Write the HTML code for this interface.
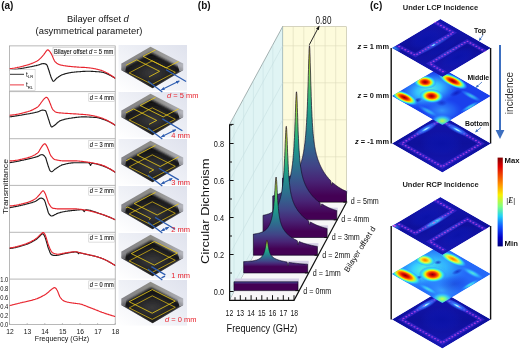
<!DOCTYPE html>
<html><head><meta charset="utf-8"><title>Figure</title>
<style>
html,body{margin:0;padding:0;background:#fff;}
body{width:520px;height:350px;overflow:hidden;}
svg{display:block;font-family:"Liberation Sans",sans-serif;}
</style></head><body>
<svg width="520" height="350" viewBox="0 0 520 350">
<rect width="520" height="350" fill="#fff"/>
<g id="pa">
<rect x="9.6" y="45.9" width="105.60000000000001" height="278.6" fill="#fff" stroke="#9a9a9a" stroke-width="0.7"/>
<line x1="9.6" y1="91.6" x2="115.2" y2="91.6" stroke="#9a9a9a" stroke-width="0.7"/>
<line x1="9.6" y1="138.7" x2="115.2" y2="138.7" stroke="#9a9a9a" stroke-width="0.7"/>
<line x1="9.6" y1="185.4" x2="115.2" y2="185.4" stroke="#9a9a9a" stroke-width="0.7"/>
<line x1="9.6" y1="232.3" x2="115.2" y2="232.3" stroke="#9a9a9a" stroke-width="0.7"/>
<line x1="9.6" y1="279.1" x2="115.2" y2="279.1" stroke="#9a9a9a" stroke-width="0.7"/>
<clipPath id="cpa"><rect x="9.6" y="44.9" width="105.60000000000001" height="280.6"/></clipPath>
<g clip-path="url(#cpa)" fill="none" stroke-linejoin="round" stroke-linecap="round">
<path d="M9.6,69.7 L10.1,69.6 L10.7,69.6 L11.2,69.5 L11.7,69.4 L12.3,69.3 L12.8,69.2 L13.3,69.2 L13.8,69.1 L14.4,69.0 L14.9,68.9 L15.4,68.8 L16.0,68.8 L16.5,68.7 L17.0,68.6 L17.6,68.5 L18.1,68.4 L18.6,68.3 L19.2,68.2 L19.7,68.2 L20.2,68.1 L20.7,68.0 L21.3,67.9 L21.8,67.8 L22.3,67.7 L22.9,67.6 L23.4,67.5 L23.9,67.4 L24.5,67.3 L25.0,67.2 L25.1,67.2 L25.5,67.1 L26.1,67.0 L26.6,66.9 L27.1,66.8 L27.6,66.7 L28.2,66.6 L28.7,66.5 L29.2,66.4 L29.8,66.3 L30.3,66.2 L30.8,66.1 L31.4,66.0 L31.9,65.9 L32.4,65.8 L32.9,65.7 L33.5,65.6 L34.0,65.4 L34.5,65.3 L35.1,65.2 L35.6,65.1 L36.1,65.0 L36.7,64.8 L37.2,64.7 L37.7,64.6 L37.7,64.6 L38.3,64.4 L38.8,64.3 L39.3,64.1 L39.8,63.9 L40.4,63.7 L40.9,63.5 L41.4,63.3 L42.0,63.2 L42.5,63.1 L43.0,63.0 L43.5,63.0 L43.6,63.0 L44.1,63.0 L44.6,63.1 L45.2,63.3 L45.7,63.5 L46.2,63.7 L46.5,63.9 L46.7,64.1 L47.3,65.1 L47.8,66.5 L48.3,68.2 L48.9,69.8 L49.0,70.2 L49.4,71.4 L49.9,73.1 L50.5,74.8 L51.0,76.4 L51.5,77.7 L51.5,77.7 L52.1,78.9 L52.6,80.0 L53.1,80.6 L53.3,80.7 L53.6,80.6 L54.2,80.3 L54.7,79.8 L55.2,79.2 L55.8,78.5 L56.3,78.0 L56.6,77.7 L56.8,77.5 L57.4,77.1 L57.9,76.8 L58.4,76.4 L59.0,76.0 L59.5,75.6 L60.0,75.3 L60.5,75.0 L61.1,74.7 L61.6,74.4 L62.1,74.2 L62.7,74.0 L62.9,73.9 L63.2,73.8 L63.7,73.6 L64.3,73.5 L64.8,73.3 L65.3,73.2 L65.8,73.0 L66.4,72.9 L66.9,72.8 L67.4,72.7 L68.0,72.5 L68.5,72.4 L69.0,72.3 L69.6,72.2 L70.1,72.1 L70.6,72.0 L71.2,71.9 L71.7,71.8 L72.2,71.8 L72.7,71.7 L73.3,71.6 L73.8,71.6 L74.3,71.5 L74.9,71.4 L75.4,71.4 L75.4,71.4 L75.9,71.4 L76.5,71.3 L77.0,71.3 L77.5,71.2 L78.1,71.2 L78.6,71.1 L79.1,71.1 L79.6,71.1 L80.2,71.0 L80.7,71.0 L81.2,70.9 L81.8,70.9 L82.3,70.9 L82.8,70.8 L83.4,70.8 L83.9,70.8 L84.4,70.8 L85.0,70.8 L85.5,70.7 L86.0,70.7 L86.5,70.7 L87.1,70.7 L87.6,70.7 L88.0,70.7 L88.1,70.7 L88.7,70.7 L89.2,70.7 L89.7,70.7 L90.3,70.7 L90.8,70.7 L91.3,70.8 L91.9,70.8 L92.4,70.8 L92.9,70.8 L93.4,70.9 L94.0,70.9 L94.5,70.9 L95.0,70.9 L95.6,71.0 L96.1,71.0 L96.6,71.1 L97.2,71.1 L97.7,71.1 L98.2,71.2 L98.7,71.2 L99.3,71.3 L99.8,71.3 L100.3,71.4 L100.6,71.4 L100.9,71.4 L101.4,71.5 L101.9,71.6 L102.5,71.7 L103.0,71.8 L103.5,71.9 L104.1,72.1 L104.6,72.3 L105.1,72.4 L105.6,72.6 L106.2,72.8 L106.7,73.0 L107.2,73.3 L107.8,73.5 L108.3,73.8 L108.8,74.0 L109.4,74.3 L109.9,74.6 L110.4,74.9 L111.0,75.1 L111.5,75.4 L112.0,75.8 L112.5,76.1 L113.1,76.4 L113.6,76.7 L114.1,77.0 L114.7,77.4 L115.2,77.7" stroke="#1a1a1a" stroke-width="1.15" transform="translate(0,0.6)"/>
<path d="M9.6,68.2 L10.1,68.1 L10.7,68.1 L11.2,68.0 L11.7,68.0 L12.3,67.9 L12.8,67.8 L13.3,67.7 L13.8,67.7 L14.4,67.6 L14.9,67.5 L15.4,67.4 L16.0,67.3 L16.5,67.2 L17.0,67.1 L17.6,66.9 L18.1,66.8 L18.6,66.7 L19.2,66.6 L19.7,66.5 L20.2,66.4 L20.7,66.2 L21.3,66.1 L21.8,66.0 L22.3,65.8 L22.9,65.7 L23.4,65.6 L23.9,65.4 L24.5,65.3 L25.0,65.1 L25.1,65.1 L25.5,65.0 L26.1,64.8 L26.6,64.7 L27.1,64.5 L27.6,64.4 L28.2,64.2 L28.7,64.1 L29.2,63.9 L29.8,63.7 L30.3,63.5 L30.8,63.3 L31.4,63.1 L31.9,62.9 L32.4,62.7 L32.9,62.5 L33.5,62.3 L34.0,62.0 L34.5,61.8 L35.1,61.5 L35.6,61.3 L36.1,61.0 L36.7,60.7 L37.2,60.4 L37.7,60.1 L37.7,60.1 L38.3,59.7 L38.8,59.3 L39.3,58.9 L39.8,58.4 L40.4,57.9 L40.9,57.4 L41.4,56.8 L42.0,56.2 L42.5,55.6 L43.0,55.0 L43.6,54.3 L44.0,53.8 L44.1,53.7 L44.6,52.9 L45.2,52.1 L45.7,51.3 L46.2,50.6 L46.5,50.3 L46.7,50.1 L47.3,49.5 L47.8,49.3 L47.8,49.3 L48.3,49.5 L48.9,50.0 L49.2,50.3 L49.4,50.5 L49.9,51.2 L50.5,52.0 L51.0,52.9 L51.5,53.8 L51.5,53.8 L52.1,54.9 L52.6,56.0 L53.1,57.3 L53.6,58.5 L54.2,59.7 L54.7,60.6 L55.2,61.3 L55.3,61.4 L55.8,61.8 L56.3,62.3 L56.8,62.7 L57.4,63.1 L57.9,63.4 L58.4,63.7 L59.0,63.9 L59.5,64.2 L60.0,64.3 L60.3,64.4 L60.5,64.5 L61.1,64.6 L61.6,64.7 L62.1,64.8 L62.7,64.9 L63.2,65.0 L63.7,65.1 L64.3,65.2 L64.8,65.3 L65.3,65.4 L65.8,65.4 L66.4,65.5 L66.9,65.6 L67.4,65.6 L68.0,65.7 L68.5,65.8 L69.0,65.8 L69.6,65.9 L70.1,65.9 L70.6,66.0 L71.2,66.0 L71.7,66.1 L72.2,66.1 L72.7,66.2 L73.3,66.2 L73.8,66.3 L74.3,66.3 L74.9,66.4 L75.4,66.4 L75.4,66.4 L75.9,66.4 L76.5,66.5 L77.0,66.5 L77.5,66.6 L78.1,66.6 L78.6,66.6 L79.1,66.7 L79.6,66.7 L80.2,66.7 L80.7,66.7 L81.2,66.8 L81.8,66.8 L82.3,66.8 L82.8,66.8 L83.4,66.9 L83.9,66.9 L84.4,66.9 L85.0,67.0 L85.5,67.0 L86.0,67.0 L86.5,67.1 L87.1,67.1 L87.6,67.2 L88.0,67.2 L88.1,67.2 L88.7,67.3 L89.2,67.3 L89.7,67.4 L90.3,67.5 L90.8,67.5 L91.3,67.6 L91.9,67.7 L92.4,67.8 L92.9,67.9 L93.4,68.0 L94.0,68.1 L94.5,68.2 L95.0,68.3 L95.6,68.4 L96.1,68.5 L96.6,68.7 L97.2,68.8 L97.7,68.9 L98.2,69.0 L98.7,69.2 L99.3,69.3 L99.8,69.5 L100.3,69.6 L100.6,69.7 L100.9,69.8 L101.4,69.9 L101.9,70.1 L102.5,70.3 L103.0,70.5 L103.5,70.7 L104.1,71.0 L104.6,71.2 L105.1,71.4 L105.6,71.7 L106.2,72.0 L106.7,72.2 L107.2,72.5 L107.8,72.8 L108.3,73.1 L108.8,73.4 L109.4,73.7 L109.9,74.1 L110.4,74.4 L111.0,74.7 L111.5,75.1 L112.0,75.4 L112.5,75.8 L113.1,76.2 L113.6,76.6 L114.1,76.9 L114.7,77.3 L115.2,77.7" stroke="#e8232d" stroke-width="1.15" transform="translate(0,0.5)"/>
<path d="M9.6,116.9 L10.1,116.8 L10.7,116.7 L11.2,116.7 L11.7,116.6 L12.3,116.5 L12.8,116.4 L13.3,116.4 L13.8,116.3 L14.4,116.2 L14.9,116.1 L15.4,116.0 L16.0,115.9 L16.5,115.9 L17.0,115.8 L17.6,115.7 L18.1,115.6 L18.6,115.5 L19.2,115.4 L19.7,115.3 L20.2,115.2 L20.7,115.2 L21.3,115.1 L21.8,115.0 L22.3,114.9 L22.9,114.8 L23.4,114.7 L23.9,114.6 L24.5,114.5 L25.0,114.4 L25.1,114.4 L25.5,114.3 L26.1,114.2 L26.6,114.1 L27.1,114.0 L27.6,114.0 L28.2,113.9 L28.7,113.8 L29.2,113.7 L29.8,113.6 L30.3,113.5 L30.8,113.4 L31.4,113.3 L31.9,113.2 L32.4,113.1 L32.9,113.0 L33.5,112.9 L34.0,112.8 L34.5,112.7 L35.1,112.5 L35.6,112.4 L36.1,112.3 L36.7,112.2 L37.2,112.0 L37.7,111.9 L37.7,111.9 L38.3,111.7 L38.8,111.5 L39.3,111.3 L39.8,111.0 L40.4,110.7 L40.9,110.5 L41.4,110.3 L42.0,110.2 L42.5,110.1 L42.7,110.1 L43.0,110.1 L43.6,110.2 L44.1,110.3 L44.6,110.4 L45.2,110.5 L45.3,110.6 L45.7,111.0 L46.2,112.1 L46.7,113.6 L47.3,115.3 L47.8,116.9 L47.8,116.9 L48.3,118.5 L48.9,120.2 L49.4,121.9 L49.9,123.5 L50.3,124.5 L50.5,124.9 L51.0,126.3 L51.5,127.0 L51.5,127.0 L52.1,126.9 L52.6,126.6 L53.1,126.3 L53.6,125.9 L54.0,125.7 L54.2,125.6 L54.7,125.2 L55.2,124.8 L55.8,124.3 L56.3,123.8 L56.8,123.3 L57.4,122.8 L57.9,122.3 L58.4,121.9 L59.0,121.5 L59.5,121.1 L60.0,120.8 L60.3,120.7 L60.5,120.6 L61.1,120.4 L61.6,120.2 L62.1,120.0 L62.7,119.9 L63.2,119.7 L63.7,119.6 L64.3,119.4 L64.8,119.3 L65.3,119.1 L65.8,119.0 L66.4,118.9 L66.9,118.8 L67.4,118.7 L68.0,118.6 L68.5,118.5 L69.0,118.4 L69.6,118.3 L70.1,118.2 L70.4,118.2 L70.6,118.2 L71.2,118.1 L71.7,118.0 L72.2,117.9 L72.7,117.9 L73.3,117.8 L73.8,117.7 L74.3,117.6 L74.9,117.6 L75.4,117.5 L75.9,117.4 L76.5,117.3 L77.0,117.3 L77.5,117.2 L78.1,117.2 L78.6,117.1 L79.1,117.1 L79.6,117.0 L80.2,117.0 L80.7,117.0 L81.2,116.9 L81.8,116.9 L82.3,116.9 L82.8,116.9 L83.0,116.9 L83.4,116.9 L83.9,116.9 L84.4,116.9 L85.0,116.9 L85.5,116.9 L86.0,116.9 L86.5,116.9 L87.1,117.0 L87.6,117.0 L88.1,117.0 L88.7,117.0 L89.2,117.0 L89.7,117.1 L90.3,117.1 L90.8,117.1 L91.3,117.1 L91.9,117.2 L92.4,117.2 L92.9,117.2 L93.4,117.3 L94.0,117.3 L94.5,117.3 L95.0,117.4 L95.5,117.4 L95.6,117.4 L96.1,117.5 L96.6,117.5 L97.2,117.6 L97.7,117.7 L98.2,117.8 L98.7,117.9 L99.3,118.1 L99.8,118.2 L100.3,118.4 L100.9,118.5 L101.4,118.7 L101.9,118.9 L102.5,119.1 L103.0,119.3 L103.5,119.4 L104.1,119.6 L104.6,119.8 L105.1,120.0 L105.6,120.2 L105.6,120.2 L106.2,120.4 L106.7,120.6 L107.2,120.8 L107.8,121.1 L108.3,121.3 L108.8,121.6 L109.4,121.8 L109.9,122.1 L110.4,122.4 L111.0,122.7 L111.5,123.0 L112.0,123.3 L112.5,123.6 L113.1,123.9 L113.6,124.2 L114.1,124.5 L114.7,124.9 L115.2,125.2" stroke="#1a1a1a" stroke-width="1.15" transform="translate(0,0)"/>
<path d="M9.6,115.2 L10.1,115.2 L10.7,115.1 L11.2,115.1 L11.7,115.1 L12.3,115.0 L12.8,114.9 L13.3,114.9 L13.8,114.8 L14.4,114.7 L14.9,114.7 L15.4,114.6 L16.0,114.5 L16.5,114.4 L17.0,114.3 L17.6,114.2 L18.1,114.1 L18.6,114.0 L19.2,113.9 L19.7,113.7 L20.2,113.6 L20.7,113.5 L21.3,113.4 L21.8,113.2 L22.3,113.1 L22.9,113.0 L23.4,112.8 L23.9,112.7 L24.5,112.6 L25.0,112.4 L25.1,112.4 L25.5,112.3 L26.1,112.1 L26.6,112.0 L27.1,111.8 L27.6,111.7 L28.2,111.5 L28.7,111.3 L29.2,111.2 L29.8,111.0 L30.3,110.8 L30.8,110.6 L31.4,110.4 L31.9,110.1 L32.4,109.9 L32.9,109.7 L33.5,109.4 L34.0,109.1 L34.5,108.8 L35.1,108.6 L35.6,108.2 L36.1,107.9 L36.7,107.6 L37.2,107.2 L37.7,106.9 L37.7,106.9 L38.3,106.4 L38.8,105.9 L39.3,105.2 L39.8,104.5 L40.4,103.8 L40.9,103.0 L41.4,102.2 L42.0,101.5 L42.5,100.8 L42.7,100.6 L43.0,100.2 L43.6,99.5 L44.1,98.9 L44.6,98.3 L45.2,97.9 L45.3,97.8 L45.7,97.6 L46.2,97.3 L46.5,97.3 L46.7,97.4 L47.3,97.7 L47.8,98.3 L47.8,98.3 L48.3,99.2 L48.9,100.3 L49.4,101.6 L49.5,101.8 L49.9,102.8 L50.5,104.2 L51.0,105.6 L51.5,106.9 L52.1,108.2 L52.6,109.1 L52.8,109.4 L53.1,109.8 L53.6,110.4 L54.2,110.9 L54.7,111.4 L55.2,111.8 L55.8,112.1 L56.3,112.3 L56.6,112.4 L56.8,112.4 L57.4,112.5 L57.9,112.6 L58.4,112.7 L59.0,112.8 L59.5,112.8 L60.0,112.9 L60.5,112.9 L61.1,113.0 L61.6,113.0 L62.1,113.0 L62.7,113.1 L62.9,113.1 L63.2,113.1 L63.7,113.2 L64.3,113.2 L64.8,113.2 L65.3,113.3 L65.8,113.3 L66.4,113.4 L66.9,113.4 L67.4,113.4 L68.0,113.5 L68.5,113.5 L69.0,113.5 L69.6,113.5 L70.1,113.6 L70.6,113.6 L71.2,113.6 L71.7,113.7 L72.2,113.7 L72.7,113.7 L73.3,113.8 L73.8,113.8 L74.3,113.8 L74.9,113.9 L75.4,113.9 L75.4,113.9 L75.9,113.9 L76.5,114.0 L77.0,114.0 L77.5,114.0 L78.1,114.1 L78.6,114.1 L79.1,114.2 L79.6,114.2 L80.2,114.2 L80.7,114.3 L81.2,114.3 L81.8,114.3 L82.3,114.4 L82.8,114.4 L83.4,114.5 L83.9,114.5 L84.4,114.5 L85.0,114.6 L85.5,114.6 L86.0,114.7 L86.5,114.7 L87.1,114.8 L87.6,114.9 L88.0,114.9 L88.1,114.9 L88.7,115.0 L89.2,115.1 L89.7,115.1 L90.3,115.2 L90.8,115.3 L91.3,115.4 L91.9,115.5 L92.4,115.6 L92.9,115.7 L93.4,115.8 L94.0,115.9 L94.5,116.0 L95.0,116.2 L95.6,116.3 L96.1,116.4 L96.6,116.6 L97.2,116.7 L97.7,116.9 L98.2,117.0 L98.7,117.1 L99.3,117.3 L99.8,117.5 L100.3,117.6 L100.6,117.7 L100.9,117.8 L101.4,118.0 L101.9,118.1 L102.5,118.3 L103.0,118.5 L103.5,118.7 L104.1,119.0 L104.6,119.2 L105.1,119.4 L105.6,119.7 L106.2,119.9 L106.7,120.2 L107.2,120.4 L107.8,120.7 L108.3,121.0 L108.8,121.3 L109.4,121.6 L109.9,121.9 L110.4,122.2 L111.0,122.5 L111.5,122.8 L112.0,123.1 L112.5,123.5 L113.1,123.8 L113.6,124.2 L114.1,124.5 L114.7,124.8 L115.2,125.2" stroke="#e8232d" stroke-width="1.15" transform="translate(0,0)"/>
<path d="M9.6,162.7 L10.1,162.6 L10.7,162.5 L11.2,162.4 L11.7,162.4 L12.3,162.3 L12.8,162.2 L13.3,162.1 L13.8,162.0 L14.4,161.9 L14.9,161.8 L15.4,161.7 L16.0,161.6 L16.5,161.5 L17.0,161.4 L17.6,161.3 L18.1,161.2 L18.6,161.1 L19.2,161.0 L19.7,160.9 L20.2,160.8 L20.7,160.6 L21.3,160.5 L21.8,160.4 L22.3,160.3 L22.9,160.2 L23.4,160.1 L23.9,160.0 L24.5,159.8 L25.0,159.7 L25.1,159.7 L25.5,159.6 L26.1,159.5 L26.6,159.4 L27.1,159.2 L27.6,159.1 L28.2,159.0 L28.7,158.9 L29.2,158.8 L29.8,158.6 L30.3,158.5 L30.8,158.4 L31.4,158.2 L31.9,158.1 L32.4,158.0 L32.9,157.8 L33.5,157.7 L34.0,157.5 L34.5,157.4 L35.1,157.2 L35.6,157.1 L36.1,156.9 L36.7,156.7 L37.2,156.6 L37.7,156.4 L37.7,156.4 L38.3,156.2 L38.8,155.9 L39.3,155.6 L39.8,155.3 L40.4,155.0 L40.9,154.8 L41.4,154.7 L42.0,154.6 L42.0,154.6 L42.5,154.7 L43.0,154.9 L43.6,155.3 L44.1,155.7 L44.6,156.3 L45.2,156.9 L45.3,157.1 L45.7,157.8 L46.2,159.3 L46.7,161.1 L47.3,163.0 L47.8,164.7 L47.8,164.7 L48.3,166.3 L48.9,167.9 L49.4,169.4 L49.9,170.5 L50.3,171.0 L50.5,171.1 L51.0,171.5 L51.5,171.7 L51.5,171.7 L52.1,171.6 L52.6,171.3 L53.1,170.9 L53.6,170.4 L54.2,169.9 L54.7,169.4 L55.2,169.0 L55.3,169.0 L55.8,168.7 L56.3,168.3 L56.8,168.0 L57.4,167.6 L57.9,167.3 L58.4,166.9 L59.0,166.6 L59.5,166.3 L60.0,165.9 L60.5,165.7 L61.1,165.4 L61.6,165.1 L62.1,164.9 L62.7,164.8 L62.9,164.7 L63.2,164.6 L63.7,164.5 L64.3,164.4 L64.8,164.2 L65.3,164.1 L65.8,164.0 L66.4,163.8 L66.9,163.7 L67.4,163.6 L68.0,163.5 L68.5,163.4 L69.0,163.3 L69.6,163.2 L70.1,163.1 L70.6,163.1 L71.2,163.0 L71.7,162.9 L72.2,162.9 L72.7,162.8 L73.3,162.8 L73.8,162.7 L74.3,162.7 L74.9,162.7 L75.4,162.7 L75.4,162.7 L75.9,162.7 L76.5,162.7 L77.0,162.7 L77.5,162.7 L78.1,162.7 L78.6,162.7 L79.1,162.7 L79.6,162.7 L80.2,162.7 L80.7,162.7 L81.2,162.7 L81.8,162.7 L82.3,162.7 L82.8,162.7 L83.4,162.7 L83.9,162.7 L84.4,162.7 L85.0,162.7 L85.5,162.7 L86.0,162.7 L86.5,162.7 L87.1,162.7 L87.6,162.7 L88.0,162.7 L88.1,162.7 L88.7,162.9 L89.2,163.2 L89.5,163.4 L89.7,163.8 L90.3,165.1 L90.5,165.4 L90.8,165.1 L91.3,163.9 L91.6,163.6 L91.9,163.5 L92.4,163.4 L92.5,163.4 L92.9,163.4 L93.4,163.4 L94.0,163.5 L94.5,163.6 L95.0,163.7 L95.6,163.8 L96.1,163.9 L96.6,164.0 L97.2,164.2 L97.7,164.3 L98.2,164.5 L98.7,164.6 L99.3,164.8 L99.8,165.0 L100.3,165.1 L100.6,165.2 L100.9,165.3 L101.4,165.4 L101.9,165.6 L102.5,165.8 L103.0,166.0 L103.5,166.2 L104.1,166.4 L104.6,166.6 L105.1,166.8 L105.6,167.0 L106.2,167.3 L106.7,167.5 L107.2,167.7 L107.8,168.0 L108.3,168.3 L108.8,168.5 L109.4,168.8 L109.9,169.1 L110.4,169.4 L111.0,169.6 L111.5,169.9 L112.0,170.3 L112.5,170.6 L113.1,170.9 L113.6,171.2 L114.1,171.5 L114.7,171.9 L115.2,172.2" stroke="#1a1a1a" stroke-width="1.15" transform="translate(0,0)"/>
<path d="M9.6,160.9 L10.1,160.9 L10.7,160.9 L11.2,160.8 L11.7,160.8 L12.3,160.8 L12.8,160.7 L13.3,160.7 L13.8,160.6 L14.4,160.6 L14.9,160.5 L15.4,160.4 L16.0,160.3 L16.5,160.2 L17.0,160.2 L17.6,160.1 L18.1,160.0 L18.6,159.9 L19.2,159.7 L19.7,159.6 L20.2,159.5 L20.7,159.4 L21.3,159.3 L21.8,159.2 L22.3,159.1 L22.9,158.9 L23.4,158.8 L23.9,158.7 L24.5,158.6 L25.0,158.4 L25.1,158.4 L25.5,158.3 L26.1,158.2 L26.6,158.0 L27.1,157.9 L27.6,157.7 L28.2,157.6 L28.7,157.4 L29.2,157.3 L29.8,157.1 L30.3,156.9 L30.8,156.7 L31.4,156.5 L31.9,156.3 L32.4,156.0 L32.9,155.8 L33.5,155.5 L34.0,155.2 L34.5,155.0 L35.1,154.7 L35.6,154.3 L36.1,154.0 L36.7,153.6 L37.2,153.3 L37.7,152.9 L37.7,152.9 L38.3,152.4 L38.8,151.6 L39.3,150.8 L39.8,149.8 L40.4,148.9 L40.9,148.0 L41.4,147.2 L41.5,147.1 L42.0,146.4 L42.5,145.7 L43.0,145.0 L43.6,144.5 L43.8,144.3 L44.1,144.1 L44.6,143.8 L44.8,143.8 L45.2,143.9 L45.7,144.4 L46.0,144.8 L46.2,145.1 L46.7,146.0 L47.3,147.1 L47.8,148.3 L47.8,148.3 L48.3,149.6 L48.9,151.0 L49.4,152.4 L49.9,153.8 L50.5,155.0 L51.0,155.9 L51.0,155.9 L51.5,156.6 L52.1,157.2 L52.6,157.8 L53.1,158.3 L53.6,158.8 L54.2,159.2 L54.7,159.5 L55.2,159.7 L55.3,159.7 L55.8,159.8 L56.3,159.9 L56.8,160.0 L57.4,160.1 L57.9,160.2 L58.4,160.3 L59.0,160.4 L59.5,160.5 L60.0,160.6 L60.5,160.6 L61.1,160.7 L61.6,160.7 L62.1,160.8 L62.7,160.8 L63.2,160.8 L63.7,160.9 L64.3,160.9 L64.8,160.9 L65.3,160.9 L65.4,160.9 L65.8,160.9 L66.4,160.9 L66.9,160.9 L67.4,160.9 L68.0,160.9 L68.5,160.9 L69.0,160.9 L69.6,160.9 L70.1,160.9 L70.6,160.9 L71.2,160.9 L71.7,160.9 L72.2,160.9 L72.7,160.9 L73.3,160.9 L73.8,160.9 L74.3,160.9 L74.9,160.9 L75.4,160.9 L75.4,160.9 L75.9,160.9 L76.5,160.9 L77.0,160.9 L77.5,161.0 L78.1,161.0 L78.6,161.0 L79.1,161.1 L79.6,161.1 L80.2,161.2 L80.7,161.2 L81.2,161.3 L81.8,161.3 L82.3,161.4 L82.8,161.5 L83.4,161.5 L83.9,161.6 L84.4,161.7 L85.0,161.8 L85.5,161.8 L86.0,161.9 L86.5,162.0 L87.1,162.1 L87.6,162.1 L88.0,162.2 L88.1,162.2 L88.7,162.3 L89.2,162.4 L89.7,162.4 L90.3,162.5 L90.8,162.6 L91.3,162.7 L91.9,162.8 L92.4,162.9 L92.9,163.0 L93.4,163.1 L94.0,163.2 L94.5,163.3 L95.0,163.4 L95.6,163.5 L96.1,163.6 L96.6,163.7 L97.2,163.8 L97.7,163.9 L98.2,164.1 L98.7,164.2 L99.3,164.3 L99.8,164.5 L100.3,164.6 L100.6,164.7 L100.9,164.8 L101.4,164.9 L101.9,165.1 L102.5,165.3 L103.0,165.5 L103.5,165.7 L104.1,165.9 L104.6,166.1 L105.1,166.4 L105.6,166.6 L106.2,166.9 L106.7,167.1 L107.2,167.4 L107.8,167.7 L108.3,167.9 L108.8,168.2 L109.4,168.5 L109.9,168.8 L110.4,169.1 L111.0,169.5 L111.5,169.8 L112.0,170.1 L112.5,170.4 L113.1,170.8 L113.6,171.1 L114.1,171.5 L114.7,171.8 L115.2,172.2" stroke="#e8232d" stroke-width="1.15" transform="translate(0,0)"/>
<path d="M9.6,207.7 L10.1,207.6 L10.7,207.5 L11.2,207.4 L11.7,207.3 L12.3,207.2 L12.8,207.1 L13.3,207.0 L13.8,206.9 L14.4,206.8 L14.9,206.7 L15.4,206.6 L16.0,206.5 L16.5,206.4 L17.0,206.3 L17.6,206.2 L18.1,206.1 L18.6,205.9 L19.2,205.8 L19.7,205.7 L20.2,205.6 L20.7,205.5 L21.3,205.3 L21.8,205.2 L22.3,205.1 L22.9,205.0 L23.4,204.8 L23.9,204.7 L24.5,204.6 L25.0,204.4 L25.1,204.4 L25.5,204.3 L26.1,204.2 L26.6,204.0 L27.1,203.9 L27.6,203.8 L28.2,203.6 L28.7,203.5 L29.2,203.3 L29.8,203.2 L30.3,203.0 L30.8,202.9 L31.4,202.7 L31.9,202.6 L32.4,202.4 L32.9,202.2 L33.5,202.0 L34.0,201.9 L34.5,201.7 L35.1,201.5 L35.2,201.4 L35.6,201.2 L36.1,200.9 L36.7,200.6 L37.2,200.2 L37.7,199.8 L38.3,199.4 L38.8,199.0 L39.3,198.7 L39.8,198.4 L40.4,198.2 L40.9,198.1 L41.2,198.1 L41.4,198.1 L42.0,198.2 L42.5,198.5 L43.0,198.8 L43.6,199.2 L44.0,199.6 L44.1,199.7 L44.6,200.6 L45.2,202.1 L45.7,203.8 L46.2,205.5 L46.5,206.4 L46.7,207.1 L47.3,209.0 L47.8,210.8 L48.3,212.5 L48.9,213.7 L49.0,213.9 L49.4,214.4 L49.9,215.0 L50.5,215.5 L51.0,215.9 L51.5,216.0 L51.5,216.0 L52.1,216.0 L52.6,215.8 L53.1,215.6 L53.6,215.4 L54.2,215.1 L54.7,214.8 L55.2,214.5 L55.8,214.2 L56.3,213.9 L56.8,213.6 L57.4,213.4 L57.8,213.2 L57.9,213.2 L58.4,213.0 L59.0,212.9 L59.5,212.7 L60.0,212.6 L60.5,212.4 L61.1,212.3 L61.6,212.2 L62.1,212.0 L62.7,211.9 L63.2,211.8 L63.7,211.7 L64.3,211.6 L64.8,211.5 L65.3,211.4 L65.4,211.4 L65.8,211.3 L66.4,211.2 L66.9,211.2 L67.4,211.1 L68.0,211.0 L68.5,210.9 L69.0,210.9 L69.6,210.8 L70.1,210.8 L70.6,210.7 L71.2,210.6 L71.7,210.6 L72.2,210.5 L72.7,210.5 L73.3,210.4 L73.8,210.4 L74.3,210.3 L74.9,210.3 L75.4,210.2 L75.4,210.2 L75.9,210.1 L76.5,210.1 L77.0,210.0 L77.5,210.0 L78.1,209.9 L78.6,209.9 L79.1,209.8 L79.6,209.8 L80.2,209.7 L80.7,209.7 L81.2,209.7 L81.7,209.7 L81.8,209.7 L82.3,209.8 L82.8,210.0 L83.2,210.2 L83.4,210.4 L83.9,211.3 L84.2,211.6 L84.4,211.4 L85.0,210.5 L85.2,210.2 L85.5,210.0 L86.0,209.9 L86.0,209.9 L86.5,209.9 L87.1,209.9 L87.6,210.0 L88.1,210.0 L88.7,210.1 L89.2,210.2 L89.7,210.3 L90.3,210.4 L90.8,210.6 L91.3,210.7 L91.9,210.9 L92.4,211.0 L92.9,211.2 L93.4,211.4 L94.0,211.5 L94.5,211.7 L95.0,211.9 L95.6,212.1 L96.1,212.3 L96.6,212.5 L97.2,212.7 L97.7,212.9 L98.2,213.1 L98.7,213.3 L99.3,213.5 L99.8,213.6 L100.3,213.8 L100.6,213.9 L100.9,214.0 L101.4,214.2 L101.9,214.3 L102.5,214.5 L103.0,214.7 L103.5,214.9 L104.1,215.1 L104.6,215.3 L105.1,215.5 L105.6,215.7 L106.2,215.9 L106.7,216.1 L107.2,216.3 L107.8,216.5 L108.3,216.7 L108.8,216.9 L109.4,217.1 L109.9,217.4 L110.4,217.6 L111.0,217.8 L111.5,218.0 L112.0,218.3 L112.5,218.5 L113.1,218.7 L113.6,219.0 L114.1,219.2 L114.7,219.5 L115.2,219.7" stroke="#1a1a1a" stroke-width="1.15" transform="translate(0,0)"/>
<path d="M9.6,205.9 L10.1,205.9 L10.7,205.8 L11.2,205.8 L11.7,205.8 L12.3,205.7 L12.8,205.7 L13.3,205.6 L13.8,205.5 L14.4,205.4 L14.9,205.4 L15.4,205.3 L16.0,205.2 L16.5,205.1 L17.0,205.0 L17.6,204.9 L18.1,204.8 L18.6,204.7 L19.2,204.6 L19.7,204.4 L20.2,204.3 L20.7,204.2 L21.3,204.1 L21.8,203.9 L22.3,203.8 L22.9,203.7 L23.4,203.5 L23.9,203.4 L24.5,203.3 L25.0,203.1 L25.1,203.1 L25.5,203.0 L26.1,202.8 L26.6,202.7 L27.1,202.5 L27.6,202.4 L28.2,202.2 L28.7,202.0 L29.2,201.8 L29.8,201.6 L30.3,201.4 L30.8,201.2 L31.4,200.9 L31.9,200.7 L32.4,200.4 L32.9,200.2 L33.5,199.9 L34.0,199.6 L34.5,199.3 L35.1,199.0 L35.2,198.9 L35.6,198.6 L36.1,198.2 L36.7,197.7 L37.2,197.2 L37.7,196.6 L38.3,196.0 L38.8,195.4 L39.3,194.8 L39.8,194.2 L40.2,193.8 L40.4,193.6 L40.9,192.9 L41.4,192.2 L42.0,191.6 L42.4,191.2 L42.5,191.1 L43.0,190.8 L43.2,190.8 L43.6,191.0 L44.1,191.7 L44.2,191.8 L44.6,192.5 L45.2,193.6 L45.7,194.8 L45.8,195.1 L46.2,196.2 L46.7,197.7 L47.3,199.4 L47.8,201.0 L48.3,202.5 L48.9,203.7 L49.0,203.9 L49.4,204.5 L49.9,205.4 L50.5,206.1 L51.0,206.8 L51.5,207.4 L52.1,207.9 L52.6,208.1 L52.8,208.2 L53.1,208.3 L53.6,208.4 L54.2,208.4 L54.7,208.5 L55.2,208.6 L55.8,208.6 L56.3,208.7 L56.8,208.8 L57.4,208.8 L57.9,208.8 L58.4,208.9 L59.0,208.9 L59.5,208.9 L60.0,208.9 L60.3,208.9 L60.5,208.9 L61.1,208.9 L61.6,208.9 L62.1,208.9 L62.7,208.9 L63.2,208.9 L63.7,208.9 L64.3,208.9 L64.8,208.9 L65.3,208.9 L65.8,208.9 L66.4,208.9 L66.9,208.9 L67.4,208.9 L68.0,208.9 L68.5,208.9 L69.0,208.9 L69.6,208.9 L70.1,208.9 L70.6,208.9 L71.2,208.9 L71.7,208.9 L72.2,208.9 L72.7,208.9 L73.3,208.9 L73.8,208.9 L74.3,208.9 L74.9,208.9 L75.4,208.9 L75.4,208.9 L75.9,208.9 L76.5,208.9 L77.0,209.0 L77.5,209.0 L78.1,209.0 L78.6,209.1 L79.1,209.2 L79.6,209.2 L80.2,209.3 L80.7,209.4 L81.2,209.4 L81.8,209.5 L82.3,209.6 L82.8,209.7 L83.0,209.7 L83.4,209.8 L83.9,209.8 L84.4,209.9 L85.0,210.0 L85.5,210.1 L86.0,210.2 L86.5,210.3 L87.1,210.4 L87.6,210.5 L88.1,210.6 L88.7,210.7 L89.2,210.8 L89.7,211.0 L90.3,211.1 L90.8,211.2 L91.3,211.3 L91.9,211.5 L92.4,211.6 L92.9,211.7 L93.4,211.9 L94.0,212.0 L94.5,212.1 L95.0,212.3 L95.6,212.4 L96.1,212.6 L96.6,212.7 L97.2,212.9 L97.7,213.0 L98.2,213.2 L98.7,213.3 L99.3,213.5 L99.8,213.7 L100.3,213.8 L100.6,213.9 L100.9,214.0 L101.4,214.1 L101.9,214.3 L102.5,214.5 L103.0,214.7 L103.5,214.8 L104.1,215.0 L104.6,215.2 L105.1,215.4 L105.6,215.6 L106.2,215.8 L106.7,216.0 L107.2,216.2 L107.8,216.4 L108.3,216.7 L108.8,216.9 L109.4,217.1 L109.9,217.3 L110.4,217.5 L111.0,217.8 L111.5,218.0 L112.0,218.2 L112.5,218.5 L113.1,218.7 L113.6,219.0 L114.1,219.2 L114.7,219.5 L115.2,219.7" stroke="#e8232d" stroke-width="1.15" transform="translate(0,0)"/>
<path d="M9.6,248.5 L10.1,248.4 L10.7,248.4 L11.2,248.3 L11.7,248.2 L12.3,248.2 L12.8,248.1 L13.3,248.0 L13.8,247.9 L14.4,247.8 L14.9,247.7 L15.4,247.6 L16.0,247.4 L16.5,247.3 L17.0,247.2 L17.6,247.0 L18.1,246.9 L18.6,246.8 L19.2,246.6 L19.7,246.5 L20.2,246.3 L20.7,246.2 L21.3,246.0 L21.8,245.8 L22.3,245.7 L22.9,245.5 L23.4,245.3 L23.9,245.2 L24.5,245.0 L25.0,244.8 L25.1,244.8 L25.5,244.7 L26.1,244.5 L26.6,244.3 L27.1,244.1 L27.6,243.9 L28.2,243.7 L28.7,243.4 L29.2,243.2 L29.8,243.0 L30.3,242.7 L30.8,242.5 L31.4,242.2 L31.9,241.9 L32.4,241.6 L32.9,241.3 L33.5,241.0 L34.0,240.7 L34.5,240.4 L35.1,240.1 L35.2,240.0 L35.6,239.7 L36.1,239.4 L36.7,239.0 L37.2,238.5 L37.7,238.1 L38.3,237.6 L38.8,237.1 L39.3,236.6 L39.8,236.1 L40.2,235.8 L40.4,235.6 L40.9,235.0 L41.4,234.4 L42.0,234.0 L42.0,234.0 L42.5,233.8 L42.7,233.8 L43.0,233.9 L43.6,234.4 L43.7,234.6 L44.1,235.2 L44.6,236.3 L45.2,237.6 L45.3,238.0 L45.7,239.1 L46.2,240.8 L46.7,242.7 L47.3,244.7 L47.8,246.6 L48.3,248.2 L48.5,248.6 L48.9,249.5 L49.4,250.9 L49.9,252.3 L50.5,253.4 L51.0,254.3 L51.5,254.7 L51.5,254.7 L52.1,254.9 L52.6,255.1 L53.1,255.2 L53.6,255.4 L54.2,255.4 L54.7,255.5 L55.0,255.5 L55.2,255.5 L55.8,255.5 L56.3,255.4 L56.8,255.4 L57.4,255.3 L57.9,255.2 L58.4,255.1 L59.0,255.0 L59.5,254.9 L60.0,254.8 L60.5,254.6 L61.1,254.5 L61.6,254.4 L62.1,254.2 L62.7,254.1 L63.2,254.0 L63.7,253.8 L64.3,253.7 L64.8,253.6 L65.3,253.5 L65.4,253.5 L65.8,253.4 L66.4,253.3 L66.9,253.2 L67.4,253.1 L68.0,253.0 L68.5,252.9 L69.0,252.8 L69.6,252.7 L70.1,252.6 L70.6,252.5 L71.2,252.4 L71.7,252.3 L72.2,252.2 L72.7,252.2 L73.3,252.1 L73.8,252.1 L74.3,252.0 L74.9,252.0 L75.4,252.0 L75.4,252.0 L75.9,252.0 L76.5,252.1 L77.0,252.2 L77.5,252.4 L77.5,252.4 L78.1,253.1 L78.5,253.6 L78.6,253.6 L79.1,252.9 L79.5,252.6 L79.6,252.6 L80.2,252.8 L80.5,252.9 L80.7,253.0 L81.2,253.1 L81.8,253.2 L82.3,253.4 L82.8,253.5 L83.4,253.6 L83.9,253.8 L84.4,253.9 L85.0,254.0 L85.5,254.1 L86.0,254.3 L86.5,254.4 L87.1,254.5 L87.6,254.6 L88.1,254.7 L88.7,254.8 L89.2,254.9 L89.7,255.1 L90.3,255.2 L90.8,255.3 L91.3,255.4 L91.9,255.5 L92.4,255.6 L92.9,255.8 L93.4,255.9 L94.0,256.0 L94.5,256.1 L95.0,256.3 L95.6,256.4 L96.1,256.5 L96.6,256.7 L97.2,256.8 L97.7,257.0 L98.2,257.1 L98.7,257.3 L99.3,257.5 L99.8,257.6 L100.3,257.8 L100.6,257.9 L100.9,258.0 L101.4,258.2 L101.9,258.4 L102.5,258.6 L103.0,258.8 L103.5,259.0 L104.1,259.3 L104.6,259.5 L105.1,259.8 L105.6,260.0 L106.2,260.3 L106.7,260.5 L107.2,260.8 L107.8,261.1 L108.3,261.4 L108.8,261.7 L109.4,262.0 L109.9,262.3 L110.4,262.6 L111.0,262.9 L111.5,263.2 L112.0,263.5 L112.5,263.8 L113.1,264.2 L113.6,264.5 L114.1,264.8 L114.7,265.2 L115.2,265.5" stroke="#1a1a1a" stroke-width="1.15" transform="translate(0,0)"/>
<path d="M9.6,247.9 L10.1,247.8 L10.7,247.8 L11.2,247.7 L11.7,247.6 L12.3,247.6 L12.8,247.5 L13.3,247.4 L13.8,247.3 L14.4,247.2 L14.9,247.1 L15.4,246.9 L16.0,246.8 L16.5,246.7 L17.0,246.6 L17.6,246.4 L18.1,246.3 L18.6,246.1 L19.2,246.0 L19.7,245.8 L20.2,245.7 L20.7,245.5 L21.3,245.3 L21.8,245.2 L22.3,245.0 L22.9,244.8 L23.4,244.7 L23.9,244.5 L24.5,244.3 L25.0,244.1 L25.1,244.1 L25.5,244.0 L26.1,243.8 L26.6,243.6 L27.1,243.4 L27.6,243.1 L28.2,242.9 L28.7,242.7 L29.2,242.4 L29.8,242.2 L30.3,241.9 L30.8,241.7 L31.4,241.4 L31.9,241.1 L32.4,240.8 L32.9,240.5 L33.5,240.2 L34.0,239.9 L34.5,239.5 L35.1,239.2 L35.2,239.1 L35.6,238.8 L36.1,238.4 L36.7,238.0 L37.2,237.6 L37.7,237.1 L38.3,236.6 L38.8,236.1 L39.3,235.6 L39.8,235.1 L40.2,234.8 L40.4,234.6 L40.9,234.1 L41.4,233.6 L42.0,233.1 L42.4,232.8 L42.5,232.7 L43.0,232.5 L43.2,232.5 L43.6,232.6 L44.1,233.2 L44.2,233.3 L44.6,233.9 L45.2,235.0 L45.7,236.3 L45.8,236.6 L46.2,237.7 L46.7,239.4 L47.3,241.3 L47.8,243.1 L48.3,244.8 L48.9,246.3 L49.0,246.6 L49.4,247.5 L49.9,248.6 L50.5,249.7 L51.0,250.7 L51.5,251.6 L52.1,252.3 L52.6,252.8 L52.8,252.9 L53.1,253.0 L53.6,253.3 L54.2,253.5 L54.7,253.7 L55.2,253.8 L55.8,254.0 L56.3,254.1 L56.8,254.1 L57.4,254.2 L57.8,254.2 L57.9,254.2 L58.4,254.2 L59.0,254.1 L59.5,254.1 L60.0,254.0 L60.5,253.9 L61.1,253.8 L61.6,253.7 L62.1,253.6 L62.7,253.4 L63.2,253.3 L63.7,253.2 L64.3,253.1 L64.8,253.0 L65.3,252.9 L65.4,252.9 L65.8,252.8 L66.4,252.8 L66.9,252.7 L67.4,252.6 L68.0,252.5 L68.5,252.4 L69.0,252.3 L69.6,252.2 L70.1,252.2 L70.6,252.1 L71.2,252.0 L71.7,252.0 L72.2,251.9 L72.7,251.8 L73.3,251.8 L73.8,251.8 L74.3,251.7 L74.9,251.7 L75.4,251.7 L75.4,251.7 L75.9,251.7 L76.5,251.8 L77.0,251.9 L77.5,252.0 L78.1,252.2 L78.6,252.3 L79.1,252.5 L79.6,252.7 L80.2,252.8 L80.5,252.9 L80.7,252.9 L81.2,253.1 L81.8,253.2 L82.3,253.3 L82.8,253.4 L83.4,253.6 L83.9,253.7 L84.4,253.8 L85.0,253.9 L85.5,254.0 L86.0,254.1 L86.5,254.3 L87.1,254.4 L87.6,254.5 L88.1,254.6 L88.7,254.7 L89.2,254.8 L89.7,255.0 L90.3,255.1 L90.8,255.2 L91.3,255.3 L91.9,255.4 L92.4,255.6 L92.9,255.7 L93.4,255.8 L94.0,256.0 L94.5,256.1 L95.0,256.2 L95.6,256.4 L96.1,256.5 L96.6,256.7 L97.2,256.8 L97.7,257.0 L98.2,257.1 L98.7,257.3 L99.3,257.5 L99.8,257.6 L100.3,257.8 L100.6,257.9 L100.9,258.0 L101.4,258.2 L101.9,258.4 L102.5,258.6 L103.0,258.8 L103.5,259.0 L104.1,259.3 L104.6,259.5 L105.1,259.8 L105.6,260.0 L106.2,260.3 L106.7,260.5 L107.2,260.8 L107.8,261.1 L108.3,261.4 L108.8,261.7 L109.4,262.0 L109.9,262.3 L110.4,262.6 L111.0,262.9 L111.5,263.2 L112.0,263.5 L112.5,263.8 L113.1,264.2 L113.6,264.5 L114.1,264.8 L114.7,265.2 L115.2,265.5" stroke="#e8232d" stroke-width="1.15" transform="translate(0,0)"/>
<path d="M9.6,305.6 L10.1,305.5 L10.7,305.3 L11.2,305.2 L11.7,305.1 L12.3,304.9 L12.8,304.8 L13.3,304.7 L13.8,304.5 L14.4,304.4 L14.9,304.3 L15.4,304.1 L16.0,304.0 L16.5,303.9 L17.0,303.7 L17.6,303.6 L18.1,303.5 L18.6,303.3 L19.2,303.2 L19.7,303.1 L20.0,303.0 L20.2,302.9 L20.7,302.8 L21.3,302.7 L21.8,302.6 L22.3,302.4 L22.9,302.3 L23.4,302.2 L23.9,302.1 L24.5,302.0 L25.0,301.9 L25.5,301.7 L26.1,301.6 L26.6,301.5 L27.1,301.4 L27.6,301.3 L28.2,301.1 L28.7,301.0 L29.2,300.9 L29.8,300.8 L30.3,300.6 L30.8,300.5 L31.4,300.4 L31.9,300.2 L32.4,300.1 L32.9,299.9 L33.5,299.8 L34.0,299.6 L34.5,299.5 L35.1,299.3 L35.6,299.1 L36.0,299.0 L36.1,299.0 L36.7,298.8 L37.2,298.6 L37.7,298.4 L38.3,298.1 L38.8,297.9 L39.3,297.7 L39.8,297.4 L40.4,297.2 L40.9,296.9 L41.4,296.6 L42.0,296.4 L42.5,296.1 L43.0,295.8 L43.6,295.5 L44.1,295.2 L44.6,294.9 L45.2,294.5 L45.7,294.2 L46.0,294.0 L46.2,293.9 L46.7,293.5 L47.3,293.1 L47.8,292.6 L48.3,292.2 L48.9,291.7 L49.4,291.2 L49.9,290.7 L50.5,290.3 L51.0,289.8 L51.5,289.4 L52.0,289.0 L52.1,289.0 L52.6,288.6 L53.1,288.2 L53.6,287.9 L53.6,287.9 L54.2,287.6 L54.4,287.6 L54.7,287.7 L55.2,287.9 L55.4,288.0 L55.8,288.3 L56.3,288.9 L56.8,289.7 L57.0,290.0 L57.4,290.7 L57.9,291.9 L58.4,293.3 L59.0,294.8 L59.5,296.1 L60.0,297.0 L60.0,297.0 L60.5,297.8 L61.1,298.4 L61.6,299.1 L62.1,299.6 L62.7,300.1 L63.2,300.5 L63.7,300.9 L64.0,301.0 L64.3,301.1 L64.8,301.3 L65.3,301.5 L65.8,301.7 L66.4,301.8 L66.9,302.0 L67.4,302.1 L68.0,302.2 L68.5,302.3 L69.0,302.4 L69.6,302.5 L70.0,302.6 L70.1,302.6 L70.6,302.7 L71.2,302.8 L71.7,302.9 L72.2,303.0 L72.7,303.0 L73.3,303.1 L73.8,303.1 L74.3,303.2 L74.9,303.3 L75.4,303.3 L75.9,303.4 L76.5,303.5 L77.0,303.5 L77.5,303.6 L78.1,303.7 L78.6,303.7 L79.1,303.8 L79.6,303.9 L80.0,304.0 L80.2,304.0 L80.7,304.2 L81.2,304.3 L81.8,304.4 L82.3,304.6 L82.8,304.8 L83.4,305.0 L83.9,305.2 L84.4,305.4 L85.0,305.6 L85.5,305.8 L86.0,306.0 L86.5,306.2 L87.1,306.4 L87.6,306.7 L88.1,306.9 L88.7,307.1 L89.2,307.3 L89.7,307.5 L90.0,307.6 L90.3,307.7 L90.8,307.9 L91.3,308.1 L91.9,308.3 L92.4,308.5 L92.9,308.7 L93.4,308.9 L94.0,309.1 L94.5,309.3 L95.0,309.6 L95.6,309.8 L96.1,310.0 L96.6,310.2 L97.2,310.4 L97.7,310.6 L98.2,310.8 L98.7,311.0 L99.3,311.3 L99.8,311.5 L100.3,311.7 L100.9,311.9 L101.4,312.1 L101.9,312.3 L102.5,312.5 L103.0,312.6 L103.5,312.8 L104.0,313.0 L104.1,313.0 L104.6,313.2 L105.1,313.4 L105.6,313.6 L106.2,313.7 L106.7,313.9 L107.2,314.1 L107.8,314.3 L108.3,314.4 L108.8,314.6 L109.4,314.8 L109.9,314.9 L110.4,315.1 L111.0,315.3 L111.5,315.4 L112.0,315.6 L112.5,315.7 L113.1,315.9 L113.6,316.0 L114.1,316.2 L114.7,316.4 L115.2,316.5" stroke="#e8232d" stroke-width="1.15" transform="translate(0,0)"/>
</g>
<rect x="53.0" y="47.7" width="61.4" height="8.0" fill="#fff" stroke="#bdbdbd" stroke-width="0.5"/>
<text x="83.7" y="54.1" font-size="6.3" text-anchor="middle" fill="#111" stroke="#111" stroke-width="0.1" textLength="59.3" lengthAdjust="spacingAndGlyphs">Bilayer offset <tspan font-style="italic">d</tspan> = 5 mm</text>
<rect x="88.8" y="93.4" width="25.6" height="8.0" fill="#fff" stroke="#bdbdbd" stroke-width="0.5"/>
<text x="101.8" y="99.6" font-size="6.3" text-anchor="middle" fill="#111" stroke="#111" stroke-width="0.1" textLength="23.9" lengthAdjust="spacingAndGlyphs"><tspan font-style="italic">d</tspan> = 4 mm</text>
<rect x="88.8" y="140.5" width="25.6" height="8.0" fill="#fff" stroke="#bdbdbd" stroke-width="0.5"/>
<text x="101.8" y="146.7" font-size="6.3" text-anchor="middle" fill="#111" stroke="#111" stroke-width="0.1" textLength="23.9" lengthAdjust="spacingAndGlyphs"><tspan font-style="italic">d</tspan> = 3 mm</text>
<rect x="88.8" y="187.2" width="25.6" height="8.0" fill="#fff" stroke="#bdbdbd" stroke-width="0.5"/>
<text x="101.8" y="193.4" font-size="6.3" text-anchor="middle" fill="#111" stroke="#111" stroke-width="0.1" textLength="23.9" lengthAdjust="spacingAndGlyphs"><tspan font-style="italic">d</tspan> = 2 mm</text>
<rect x="88.8" y="234.1" width="25.6" height="8.0" fill="#fff" stroke="#bdbdbd" stroke-width="0.5"/>
<text x="101.8" y="240.3" font-size="6.3" text-anchor="middle" fill="#111" stroke="#111" stroke-width="0.1" textLength="23.9" lengthAdjust="spacingAndGlyphs"><tspan font-style="italic">d</tspan> = 1 mm</text>
<rect x="88.8" y="280.9" width="25.6" height="8.0" fill="#fff" stroke="#bdbdbd" stroke-width="0.5"/>
<text x="101.8" y="287.1" font-size="6.3" text-anchor="middle" fill="#111" stroke="#111" stroke-width="0.1" textLength="23.9" lengthAdjust="spacingAndGlyphs"><tspan font-style="italic">d</tspan> = 0 mm</text>
<rect x="9.6" y="69.6" width="25.5" height="21" fill="#fff" stroke="#bdbdbd" stroke-width="0.5"/>
<line x1="10" y1="74.3" x2="24" y2="74.3" stroke="#1a1a1a" stroke-width="0.9"/>
<line x1="10" y1="84.9" x2="24" y2="84.9" stroke="#e8232d" stroke-width="0.9"/>
<text x="26" y="76.6" font-size="6.5" fill="#111">t<tspan font-size="4.2" dy="1.5">LR</tspan></text>
<text x="26" y="87.2" font-size="6.5" fill="#111">t<tspan font-size="4.2" dy="1.5">RL</tspan></text>
<text x="0.2" y="281.5"  font-size="6.6" fill="#111" textLength="8" lengthAdjust="spacingAndGlyphs">1.0</text>
<text x="0.2" y="290.5"  font-size="6.6" fill="#111" textLength="8" lengthAdjust="spacingAndGlyphs">0.8</text>
<text x="0.2" y="299.6"  font-size="6.6" fill="#111" textLength="8" lengthAdjust="spacingAndGlyphs">0.6</text>
<text x="0.2" y="308.6"  font-size="6.6" fill="#111" textLength="8" lengthAdjust="spacingAndGlyphs">0.4</text>
<text x="0.2" y="317.7"  font-size="6.6" fill="#111" textLength="8" lengthAdjust="spacingAndGlyphs">0.2</text>
<text x="0.2" y="326.7"  font-size="6.6" fill="#111" textLength="8" lengthAdjust="spacingAndGlyphs">0.0</text>
<text x="9.9" y="333.9" font-size="6.7" fill="#111" text-anchor="middle">12</text>
<line x1="9.6" y1="324.5" x2="9.6" y2="323.0" stroke="#9a9a9a" stroke-width="0.6"/>
<text x="27.5" y="333.9" font-size="6.7" fill="#111" text-anchor="middle">13</text>
<line x1="27.2" y1="324.5" x2="27.2" y2="323.0" stroke="#9a9a9a" stroke-width="0.6"/>
<text x="45.1" y="333.9" font-size="6.7" fill="#111" text-anchor="middle">14</text>
<line x1="44.8" y1="324.5" x2="44.8" y2="323.0" stroke="#9a9a9a" stroke-width="0.6"/>
<text x="62.7" y="333.9" font-size="6.7" fill="#111" text-anchor="middle">15</text>
<line x1="62.4" y1="324.5" x2="62.4" y2="323.0" stroke="#9a9a9a" stroke-width="0.6"/>
<text x="80.3" y="333.9" font-size="6.7" fill="#111" text-anchor="middle">16</text>
<line x1="80.0" y1="324.5" x2="80.0" y2="323.0" stroke="#9a9a9a" stroke-width="0.6"/>
<text x="97.9" y="333.9" font-size="6.7" fill="#111" text-anchor="middle">17</text>
<line x1="97.6" y1="324.5" x2="97.6" y2="323.0" stroke="#9a9a9a" stroke-width="0.6"/>
<text x="115.5" y="333.9" font-size="6.7" fill="#111" text-anchor="middle">18</text>
<line x1="115.2" y1="324.5" x2="115.2" y2="323.0" stroke="#9a9a9a" stroke-width="0.6"/>
<text x="62" y="340.8" font-size="7.1" fill="#111" text-anchor="middle">Frequency (GHz)</text>
<text transform="translate(7.5,186.5) rotate(-90)" font-size="7.6" fill="#111" text-anchor="middle" textLength="55" lengthAdjust="spacingAndGlyphs">Transmittance</text>
<text x="1.2" y="9.1" font-size="10" font-weight="bold" fill="#111">(a)</text>
<text x="97.9" y="22.4" font-size="9.4" fill="#111" text-anchor="middle">Bilayer offset <tspan font-style="italic">d</tspan></text>
<text x="89" y="34.1" font-size="9.4" fill="#111" text-anchor="middle">(asymmetrical parameter)</text>
</g>
<g id="icons">
<defs>
<linearGradient id="ibg" x1="1" y1="0" x2="0" y2="1"><stop offset="0" stop-color="#dfe2ed"/><stop offset="0.5" stop-color="#eef0f6"/><stop offset="1" stop-color="#ffffff"/></linearGradient>
<linearGradient id="iband" x1="0" y1="0" x2="1" y2="0"><stop offset="0" stop-color="#85858a"/><stop offset="0.5" stop-color="#8f8e88"/><stop offset="1" stop-color="#adaeb6"/></linearGradient>
<radialGradient id="iblk" cx="0.5" cy="0.55" r="0.5"><stop offset="0" stop-color="#3a3a3c"/><stop offset="0.7" stop-color="#1c1c1e"/><stop offset="1" stop-color="#0c0c0e"/></radialGradient>
<marker id="mb" viewBox="0 0 10 10" refX="8" refY="5" markerWidth="3.6" markerHeight="3.6" orient="auto-start-reverse"><path d="M0,1 L10,5 L0,9 z" fill="#2c5cb0"/></marker>
<filter id="iblur" x="-10%" y="-10%" width="120%" height="120%"><feGaussianBlur stdDeviation="0.8"/></filter>
</defs>
<clipPath id="ihex0"><polygon points="150.5,46.8 183.1,63.4 183.1,70.3 152.6,88.3 121.5,70.3 121.5,63.4"/></clipPath>
<clipPath id="ihex1"><polygon points="150.5,93.8 183.1,110.4 183.1,117.3 152.6,135.3 121.5,117.3 121.5,110.4"/></clipPath>
<clipPath id="ihex2"><polygon points="150.5,140.8 183.1,157.4 183.1,164.3 152.6,182.3 121.5,164.3 121.5,157.4"/></clipPath>
<clipPath id="ihex3"><polygon points="150.5,187.8 183.1,204.4 183.1,211.3 152.6,229.3 121.5,211.3 121.5,204.4"/></clipPath>
<clipPath id="ihex4"><polygon points="150.5,234.8 183.1,251.4 183.1,258.3 152.6,276.3 121.5,258.3 121.5,251.4"/></clipPath>
<clipPath id="ihex5"><polygon points="150.5,281.8 183.1,298.4 183.1,305.3 152.6,323.3 121.5,305.3 121.5,298.4"/></clipPath>
<rect x="118.5" y="45.0" width="68.5" height="45.6" fill="url(#ibg)"/>
<rect x="118.5" y="92.0" width="68.5" height="45.6" fill="url(#ibg)"/>
<rect x="118.5" y="139.0" width="68.5" height="45.6" fill="url(#ibg)"/>
<rect x="118.5" y="186.0" width="68.5" height="45.6" fill="url(#ibg)"/>
<rect x="118.5" y="233.0" width="68.5" height="45.6" fill="url(#ibg)"/>
<rect x="118.5" y="280.0" width="68.5" height="45.6" fill="url(#ibg)"/>
<polygon points="150.5,46.8 183.1,63.4 183.1,70.3 152.6,88.3 121.5,70.3 121.5,63.4" fill="url(#iband)"/>
<g clip-path="url(#ihex0)"><polygon points="151.0,52.6 184.0,69.4 152.6,89.5 120.5,69.6" fill="url(#iblk)" filter="url(#iblur)"/></g>
<polygon points="177.5,64.4 183.1,63.4 183.1,70.3 179.5,71.6" fill="#b4b5bc" opacity="0.8"/>
<polygon points="121.5,63.4 126.6,63.9 125.2,71.4 121.5,70.3" fill="#8a8a8e" opacity="0.7"/>
<polygon points="152.3,60.8 175.3,72.3 152.2,84.4 129.2,72.9" fill="none" stroke="#d0b015" stroke-width="0.8" stroke-linejoin="miter"/>
<polyline points="155.5,49.9 143.1,56.4 166.1,67.9 178.6,61.4" fill="none" stroke="#efcf1a" stroke-width="0.8" stroke-linejoin="miter"/>
<polyline points="125.9,65.4 136.6,59.8 159.6,71.3 149.0,76.9" fill="none" stroke="#efcf1a" stroke-width="0.8" stroke-linejoin="miter"/>
<line x1="147.8" y1="80.9" x2="162.3" y2="92.0" stroke="#2c5cb0" stroke-width="1.25" />
<line x1="166.1" y1="69.7" x2="186.1" y2="81.5" stroke="#2c5cb0" stroke-width="1.25" />
<line x1="161.5" y1="89.8" x2="179.2" y2="81.1" stroke="#2c5cb0" stroke-width="1.1" marker-start="url(#mb)" marker-end="url(#mb)"/>
<text x="167.0" y="97.7" font-size="7.5" fill="#e8232d"><tspan font-style="italic">d</tspan> = 5 mm</text>
<polygon points="150.5,93.8 183.1,110.4 183.1,117.3 152.6,135.3 121.5,117.3 121.5,110.4" fill="url(#iband)"/>
<g clip-path="url(#ihex1)"><polygon points="151.0,99.6 184.0,116.4 152.6,136.5 120.5,116.6" fill="url(#iblk)" filter="url(#iblur)"/></g>
<polygon points="177.5,111.4 183.1,110.4 183.1,117.3 179.5,118.6" fill="#b4b5bc" opacity="0.8"/>
<polygon points="121.5,110.4 126.6,110.9 125.2,118.4 121.5,117.3" fill="#8a8a8e" opacity="0.7"/>
<polygon points="152.3,107.8 175.3,119.3 152.2,131.4 129.2,119.9" fill="none" stroke="#d0b015" stroke-width="0.8" stroke-linejoin="miter"/>
<polyline points="155.5,97.4 140.2,105.5 163.2,116.9 178.6,108.9" fill="none" stroke="#efcf1a" stroke-width="0.8" stroke-linejoin="miter"/>
<polyline points="125.9,112.9 133.6,108.9 156.7,120.4 149.0,124.4" fill="none" stroke="#efcf1a" stroke-width="0.8" stroke-linejoin="miter"/>
<line x1="147.8" y1="127.9" x2="162.3" y2="139.0" stroke="#2c5cb0" stroke-width="1.25" />
<line x1="162.4" y1="118.9" x2="182.4" y2="130.7" stroke="#2c5cb0" stroke-width="1.25" />
<line x1="161.5" y1="136.8" x2="175.7" y2="129.8" stroke="#2c5cb0" stroke-width="1.1" marker-start="url(#mb)" marker-end="url(#mb)"/>
<text x="171.3" y="138.1" font-size="7.5" fill="#e8232d">4 mm</text>
<polygon points="150.5,140.8 183.1,157.4 183.1,164.3 152.6,182.3 121.5,164.3 121.5,157.4" fill="url(#iband)"/>
<g clip-path="url(#ihex2)"><polygon points="151.0,146.6 184.0,163.4 152.6,183.5 120.5,163.6" fill="url(#iblk)" filter="url(#iblur)"/></g>
<polygon points="177.5,158.4 183.1,157.4 183.1,164.3 179.5,165.6" fill="#b4b5bc" opacity="0.8"/>
<polygon points="121.5,157.4 126.6,157.9 125.2,165.4 121.5,164.3" fill="#8a8a8e" opacity="0.7"/>
<polygon points="152.3,154.8 175.3,166.3 152.2,178.4 129.2,166.9" fill="none" stroke="#d0b015" stroke-width="0.8" stroke-linejoin="miter"/>
<polyline points="155.5,145.4 137.2,155.0 160.2,166.5 178.6,156.9" fill="none" stroke="#efcf1a" stroke-width="0.8" stroke-linejoin="miter"/>
<polyline points="125.9,160.9 130.7,158.4 153.7,169.9 149.0,172.4" fill="none" stroke="#efcf1a" stroke-width="0.8" stroke-linejoin="miter"/>
<line x1="147.8" y1="174.9" x2="162.3" y2="186.0" stroke="#2c5cb0" stroke-width="1.25" />
<line x1="158.8" y1="168.2" x2="178.8" y2="179.9" stroke="#2c5cb0" stroke-width="1.25" />
<line x1="161.5" y1="183.8" x2="172.1" y2="178.6" stroke="#2c5cb0" stroke-width="1.1" marker-start="url(#mb)" marker-end="url(#mb)"/>
<text x="171.3" y="184.7" font-size="7.5" fill="#e8232d">3 mm</text>
<polygon points="150.5,187.8 183.1,204.4 183.1,211.3 152.6,229.3 121.5,211.3 121.5,204.4" fill="url(#iband)"/>
<g clip-path="url(#ihex3)"><polygon points="151.0,193.6 184.0,210.4 152.6,230.5 120.5,210.6" fill="url(#iblk)" filter="url(#iblur)"/></g>
<polygon points="177.5,205.4 183.1,204.4 183.1,211.3 179.5,212.6" fill="#b4b5bc" opacity="0.8"/>
<polygon points="121.5,204.4 126.6,204.9 125.2,212.4 121.5,211.3" fill="#8a8a8e" opacity="0.7"/>
<polygon points="152.3,201.8 175.3,213.3 152.2,225.4 129.2,213.9" fill="none" stroke="#d0b015" stroke-width="0.8" stroke-linejoin="miter"/>
<polyline points="155.5,192.4 134.2,203.6 157.2,215.0 178.6,203.9" fill="none" stroke="#efcf1a" stroke-width="0.8" stroke-linejoin="miter"/>
<polyline points="125.9,207.9 127.7,207.0 150.7,218.5 149.0,219.4" fill="none" stroke="#efcf1a" stroke-width="0.8" stroke-linejoin="miter"/>
<line x1="147.8" y1="221.9" x2="162.3" y2="233.0" stroke="#2c5cb0" stroke-width="1.25" />
<line x1="155.1" y1="217.4" x2="175.1" y2="229.2" stroke="#2c5cb0" stroke-width="1.25" />
<line x1="161.5" y1="230.8" x2="168.6" y2="227.3" stroke="#2c5cb0" stroke-width="1.1" marker-start="url(#mb)" marker-end="url(#mb)"/>
<text x="171.3" y="231.7" font-size="7.5" fill="#e8232d">2 mm</text>
<polygon points="150.5,234.8 183.1,251.4 183.1,258.3 152.6,276.3 121.5,258.3 121.5,251.4" fill="url(#iband)"/>
<g clip-path="url(#ihex4)"><polygon points="151.0,240.6 184.0,257.4 152.6,277.5 120.5,257.6" fill="url(#iblk)" filter="url(#iblur)"/></g>
<polygon points="177.5,252.4 183.1,251.4 183.1,258.3 179.5,259.6" fill="#b4b5bc" opacity="0.8"/>
<polygon points="121.5,251.4 126.6,251.9 125.2,259.4 121.5,258.3" fill="#8a8a8e" opacity="0.7"/>
<polygon points="152.3,248.8 175.3,260.3 152.2,272.4 129.2,260.9" fill="none" stroke="#d0b015" stroke-width="0.8" stroke-linejoin="miter"/>
<polyline points="154.4,241.5 177.4,253.0 154.3,265.1 131.3,253.6 154.4,241.5" fill="none" stroke="#efcf1a" stroke-width="0.8" stroke-linejoin="miter"/>
<line x1="147.8" y1="268.9" x2="162.3" y2="280.0" stroke="#2c5cb0" stroke-width="1.25" />
<line x1="151.4" y1="266.6" x2="165.4" y2="274.9" stroke="#2c5cb0" stroke-width="1.25" />
<line x1="161.5" y1="277.8" x2="165.0" y2="276.1" stroke="#2c5cb0" stroke-width="1.4" />
<text x="171.3" y="277.7" font-size="7.5" fill="#e8232d">1 mm</text>
<polygon points="150.5,281.8 183.1,298.4 183.1,305.3 152.6,323.3 121.5,305.3 121.5,298.4" fill="url(#iband)"/>
<g clip-path="url(#ihex5)"><polygon points="151.0,287.6 184.0,304.4 152.6,324.5 120.5,304.6" fill="url(#iblk)" filter="url(#iblur)"/></g>
<polygon points="177.5,299.4 183.1,298.4 183.1,305.3 179.5,306.6" fill="#b4b5bc" opacity="0.8"/>
<polygon points="121.5,298.4 126.6,298.9 125.2,306.4 121.5,305.3" fill="#8a8a8e" opacity="0.7"/>
<polygon points="152.3,295.8 175.3,307.3 152.2,319.4 129.2,307.9" fill="none" stroke="#d0b015" stroke-width="0.8" stroke-linejoin="miter"/>
<polyline points="152.3,289.6 175.3,301.1 152.2,313.2 129.2,301.7 152.3,289.6" fill="none" stroke="#efcf1a" stroke-width="0.8" stroke-linejoin="miter"/>
<text x="165.0" y="322.2" font-size="7.5" fill="#e8232d"><tspan font-style="italic">d</tspan> = 0 mm</text>
</g>
<g id="pb">
<defs>
<linearGradient id="vg0" gradientUnits="userSpaceOnUse" x1="0" y1="284.3" x2="0" y2="272.9"><stop offset="0.0" stop-color="#440154"/><stop offset="0.1" stop-color="#482475"/><stop offset="0.2" stop-color="#414487"/><stop offset="0.3" stop-color="#355f8d"/><stop offset="0.4" stop-color="#2a788e"/><stop offset="0.5" stop-color="#21918c"/><stop offset="0.6" stop-color="#22a884"/><stop offset="0.7" stop-color="#44bf70"/><stop offset="0.8" stop-color="#7ad151"/><stop offset="0.9" stop-color="#bddf26"/><stop offset="1.0" stop-color="#fde725"/></linearGradient>
<linearGradient id="vg1" gradientUnits="userSpaceOnUse" x1="0" y1="266.6" x2="0" y2="240.0"><stop offset="0.0" stop-color="#440154"/><stop offset="0.1" stop-color="#482475"/><stop offset="0.2" stop-color="#414487"/><stop offset="0.3" stop-color="#355f8d"/><stop offset="0.4" stop-color="#2a788e"/><stop offset="0.5" stop-color="#21918c"/><stop offset="0.6" stop-color="#22a884"/><stop offset="0.7" stop-color="#44bf70"/><stop offset="0.8" stop-color="#7ad151"/><stop offset="0.9" stop-color="#bddf26"/><stop offset="1.0" stop-color="#fde725"/></linearGradient>
<linearGradient id="vg2" gradientUnits="userSpaceOnUse" x1="0" y1="248.9" x2="0" y2="177.0"><stop offset="0.0" stop-color="#440154"/><stop offset="0.1" stop-color="#482475"/><stop offset="0.2" stop-color="#414487"/><stop offset="0.3" stop-color="#355f8d"/><stop offset="0.4" stop-color="#2a788e"/><stop offset="0.5" stop-color="#21918c"/><stop offset="0.6" stop-color="#22a884"/><stop offset="0.7" stop-color="#44bf70"/><stop offset="0.8" stop-color="#7ad151"/><stop offset="0.9" stop-color="#bddf26"/><stop offset="1.0" stop-color="#fde725"/></linearGradient>
<linearGradient id="vg3" gradientUnits="userSpaceOnUse" x1="0" y1="231.2" x2="0" y2="126.1"><stop offset="0.0" stop-color="#440154"/><stop offset="0.1" stop-color="#482475"/><stop offset="0.2" stop-color="#414487"/><stop offset="0.3" stop-color="#355f8d"/><stop offset="0.4" stop-color="#2a788e"/><stop offset="0.5" stop-color="#21918c"/><stop offset="0.6" stop-color="#22a884"/><stop offset="0.7" stop-color="#44bf70"/><stop offset="0.8" stop-color="#7ad151"/><stop offset="0.9" stop-color="#bddf26"/><stop offset="1.0" stop-color="#fde725"/></linearGradient>
<linearGradient id="vg4" gradientUnits="userSpaceOnUse" x1="0" y1="213.5" x2="0" y2="91.6"><stop offset="0.0" stop-color="#440154"/><stop offset="0.1" stop-color="#482475"/><stop offset="0.2" stop-color="#414487"/><stop offset="0.3" stop-color="#355f8d"/><stop offset="0.4" stop-color="#2a788e"/><stop offset="0.5" stop-color="#21918c"/><stop offset="0.6" stop-color="#22a884"/><stop offset="0.7" stop-color="#44bf70"/><stop offset="0.8" stop-color="#7ad151"/><stop offset="0.9" stop-color="#bddf26"/><stop offset="1.0" stop-color="#fde725"/></linearGradient>
<linearGradient id="vg5" gradientUnits="userSpaceOnUse" x1="0" y1="195.8" x2="0" y2="45.6"><stop offset="0.0" stop-color="#440154"/><stop offset="0.1" stop-color="#482475"/><stop offset="0.2" stop-color="#414487"/><stop offset="0.3" stop-color="#355f8d"/><stop offset="0.4" stop-color="#2a788e"/><stop offset="0.5" stop-color="#21918c"/><stop offset="0.6" stop-color="#22a884"/><stop offset="0.7" stop-color="#44bf70"/><stop offset="0.8" stop-color="#7ad151"/><stop offset="0.9" stop-color="#bddf26"/><stop offset="1.0" stop-color="#fde725"/></linearGradient>
</defs>
<rect x="282.6" y="26.7" width="63.7" height="176.0" fill="#fdfbdc" stroke="#b9b79a" stroke-width="0.6"/>
<line x1="293.2" y1="26.7" x2="293.2" y2="202.7" stroke="#dcdabb" stroke-width="0.6"/>
<line x1="303.8" y1="26.7" x2="303.8" y2="202.7" stroke="#dcdabb" stroke-width="0.6"/>
<line x1="314.5" y1="26.7" x2="314.5" y2="202.7" stroke="#dcdabb" stroke-width="0.6"/>
<line x1="325.1" y1="26.7" x2="325.1" y2="202.7" stroke="#dcdabb" stroke-width="0.6"/>
<line x1="335.7" y1="26.7" x2="335.7" y2="202.7" stroke="#dcdabb" stroke-width="0.6"/>
<line x1="282.6" y1="193.8" x2="346.3" y2="193.8" stroke="#dcdabb" stroke-width="0.6"/>
<line x1="282.6" y1="156.8" x2="346.3" y2="156.8" stroke="#dcdabb" stroke-width="0.6"/>
<line x1="282.6" y1="119.8" x2="346.3" y2="119.8" stroke="#dcdabb" stroke-width="0.6"/>
<line x1="282.6" y1="82.8" x2="346.3" y2="82.8" stroke="#dcdabb" stroke-width="0.6"/>
<line x1="282.6" y1="45.8" x2="346.3" y2="45.8" stroke="#dcdabb" stroke-width="0.6"/>
<polygon points="229.6,124.4 282.6,26.7 282.6,202.7 229.6,300.4" fill="#e0f4f4" stroke="#6f8080" stroke-width="0.6"/>
<line x1="229.6" y1="291.5" x2="282.6" y2="193.8" stroke="#c3dcdf" stroke-width="0.5"/>
<line x1="229.6" y1="254.5" x2="282.6" y2="156.8" stroke="#c3dcdf" stroke-width="0.5"/>
<line x1="229.6" y1="217.5" x2="282.6" y2="119.8" stroke="#c3dcdf" stroke-width="0.5"/>
<line x1="229.6" y1="180.5" x2="282.6" y2="82.8" stroke="#c3dcdf" stroke-width="0.5"/>
<line x1="229.6" y1="143.5" x2="282.6" y2="45.8" stroke="#c3dcdf" stroke-width="0.5"/>
<line x1="234.0" y1="292.3" x2="234.0" y2="116.3" stroke="#c3dcdf" stroke-width="0.5"/>
<line x1="243.7" y1="274.4" x2="243.7" y2="98.4" stroke="#c3dcdf" stroke-width="0.5"/>
<line x1="253.4" y1="256.5" x2="253.4" y2="80.5" stroke="#c3dcdf" stroke-width="0.5"/>
<line x1="263.1" y1="238.6" x2="263.1" y2="62.6" stroke="#c3dcdf" stroke-width="0.5"/>
<line x1="272.8" y1="220.8" x2="272.8" y2="44.8" stroke="#c3dcdf" stroke-width="0.5"/>
<line x1="282.5" y1="202.9" x2="282.5" y2="26.9" stroke="#c3dcdf" stroke-width="0.5"/>
<polygon points="229.6,300.4 294.0,300.4 346.3,202.7 282.6,202.7" fill="#f7f7f8"/>
<rect x="283.5" y="190.0" width="64" height="3.6" fill="#d6d0e6"/>
<polygon points="282.5,202.1 282.5,178.2 282.7,178.2 282.8,178.1 283.0,178.1 283.1,178.1 283.3,178.1 283.5,178.0 283.6,178.0 283.8,178.0 283.9,177.9 284.1,177.9 284.3,177.9 284.4,177.8 284.6,177.8 284.7,177.8 284.9,177.7 285.1,177.7 285.2,177.7 285.4,177.6 285.5,177.6 285.7,177.5 285.9,177.5 286.0,177.5 286.2,177.4 286.3,177.4 286.5,177.3 286.7,177.3 286.8,177.2 287.0,177.2 287.2,177.1 287.3,177.1 287.5,177.1 287.6,177.0 287.8,177.0 288.0,176.9 288.1,176.8 288.3,176.8 288.4,176.7 288.6,176.7 288.8,176.6 288.9,176.6 289.1,176.5 289.2,176.4 289.4,176.4 289.6,176.3 289.7,176.3 289.9,176.2 290.0,176.1 290.2,176.1 290.4,176.0 290.5,175.9 290.7,175.8 290.8,175.8 291.0,175.7 291.2,175.6 291.3,175.5 291.5,175.4 291.6,175.4 291.8,175.3 292.0,175.2 292.1,175.1 292.3,175.0 292.4,174.9 292.6,174.8 292.8,174.7 292.9,174.6 293.1,174.5 293.2,174.4 293.4,174.3 293.6,174.2 293.7,174.0 293.9,173.9 294.0,173.8 294.2,173.7 294.4,173.5 294.5,173.4 294.7,173.3 294.9,173.1 295.0,173.0 295.2,172.8 295.3,172.7 295.5,172.5 295.7,172.4 295.8,172.2 296.0,172.0 296.1,171.8 296.3,171.7 296.5,171.5 296.6,171.3 296.8,171.1 296.9,170.9 297.1,170.7 297.3,170.4 297.4,170.2 297.6,170.0 297.7,169.8 297.9,169.5 298.1,169.3 298.2,169.0 298.4,168.7 298.5,168.4 298.7,168.2 298.9,167.9 299.0,167.5 299.2,167.2 299.3,166.9 299.5,166.6 299.7,166.2 299.8,165.8 300.0,165.5 300.1,165.1 300.3,164.7 300.5,164.3 300.6,163.8 300.8,163.4 300.9,162.9 301.1,162.4 301.3,161.9 301.4,161.4 301.6,160.8 301.7,160.3 301.9,159.7 302.1,159.1 302.2,158.4 302.4,157.8 302.6,157.1 302.7,156.4 302.9,155.6 303.0,154.9 303.2,154.0 303.4,153.2 303.5,152.3 303.7,151.4 303.8,150.4 304.0,149.4 304.2,148.3 304.3,147.2 304.5,146.1 304.6,144.8 304.8,143.5 305.0,142.2 305.1,140.7 305.3,139.2 305.4,137.5 305.6,135.8 305.8,134.0 305.9,132.0 306.1,129.9 306.2,127.7 306.4,125.2 306.6,122.6 306.7,119.8 306.9,116.8 307.0,113.4 307.2,109.8 307.4,105.9 307.5,101.7 307.7,97.1 307.8,92.2 308.0,86.9 308.2,81.4 308.3,75.6 308.5,69.7 308.6,63.9 308.8,58.5 309.0,53.6 309.1,49.7 309.3,47.0 309.4,45.7 309.6,46.3 309.8,48.7 309.9,52.2 310.1,56.9 310.2,62.2 310.4,68.0 310.6,74.0 310.7,80.0 310.9,85.8 311.1,91.2 311.2,96.4 311.4,101.1 311.5,105.5 311.7,109.6 311.9,113.3 312.0,116.6 312.2,119.7 312.3,122.5 312.5,125.1 312.7,127.5 312.8,129.6 313.0,131.6 313.1,133.5 313.3,135.2 313.5,136.8 313.6,138.3 313.8,139.7 313.9,141.0 314.1,142.2 314.3,143.4 314.4,144.5 314.6,145.5 314.7,146.5 314.9,147.4 315.1,148.3 315.2,149.2 315.4,150.0 315.5,150.7 315.7,151.5 315.9,152.2 316.0,152.9 316.2,153.6 316.3,154.2 316.5,154.8 316.7,155.4 316.8,156.0 317.0,156.5 317.1,157.1 317.3,157.6 317.5,158.1 317.6,158.6 317.8,159.1 317.9,159.6 318.1,160.1 318.3,160.5 318.4,161.0 318.6,161.4 318.8,161.8 318.9,162.2 319.1,162.6 319.2,163.0 319.4,163.4 319.6,163.8 319.7,164.2 319.9,164.6 320.0,164.9 320.2,165.3 320.4,165.6 320.5,166.0 320.7,166.3 320.8,166.6 321.0,167.0 321.2,167.3 321.3,167.6 321.5,167.9 321.6,168.2 321.8,168.5 322.0,168.8 322.1,169.1 322.3,169.4 322.4,169.7 322.6,170.0 322.8,170.3 322.9,170.5 323.1,170.8 323.2,171.1 323.4,171.4 323.6,171.6 323.7,171.9 323.9,172.1 324.0,172.4 324.2,172.6 324.4,172.9 324.5,173.1 324.7,173.4 324.8,173.6 325.0,173.8 325.2,174.1 325.3,174.3 325.5,174.5 325.6,174.7 325.8,175.0 326.0,175.2 326.1,175.4 326.3,175.6 326.4,175.8 326.6,176.0 326.8,176.2 326.9,176.4 327.1,176.7 327.3,176.9 327.4,177.1 327.6,177.2 327.7,177.4 327.9,177.6 328.1,177.8 328.2,178.0 328.4,178.2 328.5,178.4 328.7,178.6 328.9,178.8 329.0,178.9 329.2,179.1 329.3,179.3 329.5,179.5 329.7,179.6 329.8,179.8 330.0,180.0 330.1,180.2 330.3,180.3 330.5,180.5 330.6,180.8 330.8,181.2 330.9,181.9 331.1,182.9 331.3,184.0 331.4,184.9 331.6,185.3 331.7,185.1 331.9,184.4 332.1,183.6 332.2,183.0 332.4,182.7 332.5,182.6 332.7,182.7 332.9,182.8 333.0,182.9 333.2,183.1 333.3,183.2 333.5,183.4 333.7,183.5 333.8,183.6 334.0,183.8 334.1,183.9 334.3,184.0 334.5,184.2 334.6,184.3 334.8,184.4 335.0,184.5 335.1,184.7 335.3,184.8 335.4,184.9 335.6,185.1 335.8,185.2 335.9,185.3 336.1,185.4 336.2,185.5 336.4,185.7 336.6,185.8 336.7,185.9 336.9,186.0 337.0,186.1 337.2,186.2 337.4,186.3 337.5,186.5 337.7,186.6 337.8,186.7 338.0,186.8 338.2,186.9 338.3,187.0 338.5,187.1 338.6,187.2 338.8,187.3 339.0,187.4 339.1,187.5 339.3,187.6 339.4,187.7 339.6,187.8 339.8,187.9 339.9,188.0 340.1,188.1 340.2,188.2 340.4,188.3 340.6,188.4 340.7,188.5 340.9,188.6 341.0,188.7 341.2,188.8 341.4,188.9 341.5,189.0 341.7,189.1 341.8,189.1 342.0,189.2 342.2,189.3 342.3,189.4 342.5,189.5 342.7,189.6 342.8,189.7 343.0,189.8 343.1,189.8 343.3,189.9 343.5,190.0 343.6,190.1 343.8,190.2 343.9,190.2 344.1,190.3 344.3,190.4 344.4,190.5 344.6,190.6 344.7,190.6 344.9,190.7 345.1,190.8 345.2,190.9 345.4,190.9 345.5,191.0 345.7,191.1 345.9,191.2 346.0,191.2 346.2,191.3 346.3,191.4 346.5,191.4 346.5,202.1" fill="url(#vg5)" stroke="#160a26" stroke-width="0.7" stroke-linejoin="round"/>
<rect x="273.8" y="207.7" width="64" height="3.6" fill="#d6d0e6"/>
<polygon points="272.8,219.8 272.8,195.9 273.0,195.8 273.1,195.8 273.3,195.8 273.4,195.7 273.6,195.7 273.8,195.7 273.9,195.6 274.1,195.6 274.2,195.6 274.4,195.5 274.6,195.5 274.7,195.4 274.9,195.4 275.0,195.4 275.2,195.3 275.4,195.3 275.5,195.2 275.7,195.2 275.8,195.1 276.0,195.1 276.2,195.0 276.3,195.0 276.5,195.0 276.6,194.9 276.8,194.8 277.0,194.8 277.1,194.7 277.3,194.7 277.5,194.6 277.6,194.6 277.8,194.5 277.9,194.4 278.1,194.4 278.3,194.3 278.4,194.3 278.6,194.2 278.7,194.1 278.9,194.1 279.1,194.0 279.2,193.9 279.4,193.8 279.5,193.8 279.7,193.7 279.9,193.6 280.0,193.5 280.2,193.4 280.3,193.3 280.5,193.3 280.7,193.2 280.8,193.1 281.0,193.0 281.1,192.9 281.3,192.8 281.5,192.7 281.6,192.6 281.8,192.4 281.9,192.3 282.1,192.2 282.3,192.1 282.4,192.0 282.6,191.8 282.7,191.7 282.9,191.6 283.1,191.4 283.2,191.3 283.4,191.2 283.5,191.0 283.7,190.9 283.9,190.7 284.0,190.5 284.2,190.4 284.3,190.2 284.5,190.0 284.7,189.8 284.8,189.6 285.0,189.4 285.2,189.2 285.3,189.0 285.5,188.8 285.6,188.6 285.8,188.3 286.0,188.1 286.1,187.9 286.3,187.6 286.4,187.3 286.6,187.1 286.8,186.8 286.9,186.5 287.1,186.2 287.2,185.9 287.4,185.5 287.6,185.2 287.7,184.8 287.9,184.5 288.0,184.1 288.2,183.7 288.4,183.3 288.5,182.9 288.7,182.4 288.8,182.0 289.0,181.5 289.2,181.0 289.3,180.5 289.5,180.0 289.6,179.4 289.8,178.8 290.0,178.2 290.1,177.6 290.3,176.9 290.4,176.3 290.6,175.5 290.8,174.8 290.9,174.0 291.1,173.2 291.2,172.3 291.4,171.4 291.6,170.5 291.7,169.4 291.9,168.4 292.0,167.3 292.2,166.1 292.4,164.8 292.5,163.5 292.7,162.1 292.9,160.6 293.0,159.0 293.2,157.2 293.3,155.4 293.5,153.4 293.7,151.2 293.8,148.9 294.0,146.4 294.1,143.6 294.3,140.6 294.5,137.4 294.6,133.9 294.8,130.1 294.9,126.1 295.1,121.8 295.3,117.3 295.4,112.7 295.6,108.0 295.7,103.6 295.9,99.5 296.1,96.1 296.2,93.5 296.4,92.0 296.5,91.8 296.7,93.1 296.9,95.6 297.0,99.0 297.2,103.1 297.3,107.7 297.5,112.5 297.7,117.4 297.8,122.1 298.0,126.7 298.1,130.9 298.3,134.9 298.5,138.6 298.6,142.0 298.8,145.1 298.9,147.9 299.1,150.5 299.3,152.9 299.4,155.0 299.6,157.0 299.7,158.8 299.9,160.5 300.1,162.1 300.2,163.5 300.4,164.8 300.5,166.1 300.7,167.2 300.9,168.3 301.0,169.3 301.2,170.3 301.4,171.2 301.5,172.1 301.7,172.9 301.8,173.6 302.0,174.4 302.2,175.1 302.3,175.7 302.5,176.4 302.6,177.0 302.8,177.6 303.0,178.1 303.1,178.7 303.3,179.2 303.4,179.7 303.6,180.2 303.8,180.7 303.9,181.1 304.1,181.6 304.2,182.0 304.4,182.4 304.6,182.9 304.7,183.3 304.9,183.6 305.0,184.0 305.2,184.4 305.4,184.8 305.5,185.1 305.7,185.5 305.8,185.8 306.0,186.1 306.2,186.5 306.3,186.8 306.5,187.1 306.6,187.4 306.8,187.7 307.0,188.0 307.1,188.3 307.3,188.6 307.4,188.8 307.6,189.1 307.8,189.4 307.9,189.7 308.1,189.9 308.2,190.2 308.4,190.4 308.6,190.7 308.7,190.9 308.9,191.2 309.1,191.4 309.2,191.6 309.4,191.9 309.5,192.1 309.7,192.3 309.9,192.6 310.0,192.8 310.2,193.0 310.3,193.2 310.5,193.4 310.7,193.6 310.8,193.8 311.0,194.1 311.1,194.3 311.3,194.5 311.5,194.7 311.6,194.8 311.8,195.0 311.9,195.2 312.1,195.4 312.3,195.6 312.4,195.8 312.6,196.0 312.7,196.2 312.9,196.3 313.1,196.5 313.2,196.7 313.4,196.9 313.5,197.0 313.7,197.2 313.9,197.4 314.0,197.5 314.2,197.7 314.3,197.8 314.5,198.0 314.7,198.2 314.8,198.3 315.0,198.5 315.1,198.6 315.3,198.8 315.5,198.9 315.6,199.1 315.8,199.2 315.9,199.4 316.1,199.5 316.3,199.7 316.4,199.8 316.6,200.0 316.7,200.1 316.9,200.2 317.1,200.4 317.2,200.5 317.4,200.6 317.6,200.8 317.7,200.9 317.9,201.0 318.0,201.2 318.2,201.3 318.4,201.4 318.5,201.5 318.7,201.7 318.8,201.8 319.0,201.9 319.2,202.0 319.3,202.2 319.5,202.3 319.6,202.4 319.8,202.6 320.0,202.9 320.1,203.5 320.3,204.3 320.4,205.3 320.6,206.3 320.8,206.9 320.9,206.8 321.1,206.2 321.2,205.4 321.4,204.7 321.6,204.2 321.7,204.0 321.9,204.0 322.0,204.1 322.2,204.1 322.4,204.2 322.5,204.3 322.7,204.4 322.8,204.5 323.0,204.6 323.2,204.7 323.3,204.8 323.5,204.9 323.6,205.0 323.8,205.1 324.0,205.2 324.1,205.3 324.3,205.4 324.4,205.5 324.6,205.6 324.8,205.7 324.9,205.8 325.1,205.8 325.3,205.9 325.4,206.0 325.6,206.1 325.7,206.2 325.9,206.3 326.1,206.4 326.2,206.4 326.4,206.5 326.5,206.6 326.7,206.7 326.9,206.8 327.0,206.8 327.2,206.9 327.3,207.0 327.5,207.1 327.7,207.1 327.8,207.2 328.0,207.3 328.1,207.4 328.3,207.5 328.5,207.5 328.6,207.6 328.8,207.7 328.9,207.7 329.1,207.8 329.3,207.9 329.4,208.0 329.6,208.0 329.7,208.1 329.9,208.2 330.1,208.2 330.2,208.3 330.4,208.4 330.5,208.4 330.7,208.5 330.9,208.6 331.0,208.6 331.2,208.7 331.3,208.8 331.5,208.8 331.7,208.9 331.8,208.9 332.0,209.0 332.1,209.1 332.3,209.1 332.5,209.2 332.6,209.2 332.8,209.3 333.0,209.4 333.1,209.4 333.3,209.5 333.4,209.5 333.6,209.6 333.8,209.6 333.9,209.7 334.1,209.8 334.2,209.8 334.4,209.9 334.6,209.9 334.7,210.0 334.9,210.0 335.0,210.1 335.2,210.1 335.4,210.2 335.5,210.2 335.7,210.3 335.8,210.3 336.0,210.4 336.2,210.4 336.3,210.5 336.5,210.5 336.6,210.6 336.8,210.6 336.8,219.8" fill="url(#vg4)" stroke="#160a26" stroke-width="0.7" stroke-linejoin="round"/>
<rect x="264.1" y="225.4" width="64" height="3.6" fill="#d6d0e6"/>
<polygon points="263.1,237.5 263.1,215.3 263.3,215.3 263.4,215.3 263.6,215.2 263.7,215.2 263.9,215.2 264.1,215.1 264.2,215.1 264.4,215.1 264.5,215.0 264.7,215.0 264.9,215.0 265.0,214.9 265.2,214.9 265.3,214.9 265.5,214.8 265.7,214.8 265.8,214.7 266.0,214.7 266.1,214.7 266.3,214.6 266.5,214.6 266.6,214.5 266.8,214.5 266.9,214.4 267.1,214.4 267.3,214.3 267.4,214.3 267.6,214.2 267.8,214.2 267.9,214.1 268.1,214.1 268.2,214.0 268.4,214.0 268.6,213.9 268.7,213.8 268.9,213.8 269.0,213.7 269.2,213.7 269.4,213.6 269.5,213.5 269.7,213.5 269.8,213.4 270.0,213.3 270.2,213.2 270.3,213.2 270.5,213.1 270.6,213.0 270.8,212.9 271.0,212.8 271.1,212.7 271.3,212.7 271.4,212.6 271.6,212.5 271.8,212.4 271.9,212.3 272.1,212.2 272.2,212.1 272.4,212.0 272.6,211.8 272.7,211.7 272.9,211.6 273.0,211.5 273.2,211.4 273.4,211.2 273.5,211.1 273.7,211.0 273.8,210.8 274.0,210.7 274.2,210.5 274.3,210.4 274.5,210.2 274.6,210.0 274.8,209.9 275.0,209.7 275.1,209.5 275.3,209.3 275.5,209.1 275.6,208.9 275.8,208.7 275.9,208.5 276.1,208.3 276.3,208.1 276.4,207.8 276.6,207.6 276.7,207.3 276.9,207.1 277.1,206.8 277.2,206.5 277.4,206.2 277.5,205.9 277.7,205.6 277.9,205.3 278.0,205.0 278.2,204.6 278.3,204.2 278.5,203.9 278.7,203.5 278.8,203.1 279.0,202.6 279.1,202.2 279.3,201.7 279.5,201.3 279.6,200.8 279.8,200.2 279.9,199.7 280.1,199.1 280.3,198.5 280.4,197.9 280.6,197.3 280.7,196.6 280.9,195.9 281.1,195.1 281.2,194.4 281.4,193.5 281.5,192.7 281.7,191.8 281.9,190.8 282.0,189.8 282.2,188.7 282.3,187.6 282.5,186.3 282.7,185.0 282.8,183.6 283.0,182.2 283.2,180.6 283.3,178.8 283.5,177.0 283.6,174.9 283.8,172.8 284.0,170.4 284.1,167.8 284.3,165.0 284.4,162.0 284.6,158.7 284.8,155.2 284.9,151.5 285.1,147.7 285.2,143.7 285.4,139.7 285.6,136.0 285.7,132.5 285.9,129.6 286.0,127.5 286.2,126.4 286.4,126.4 286.5,127.7 286.7,129.9 286.8,132.9 287.0,136.5 287.2,140.5 287.3,144.6 287.5,148.8 287.6,152.8 287.8,156.7 288.0,160.4 288.1,163.7 288.3,166.9 288.4,169.8 288.6,172.4 288.8,174.8 288.9,177.0 289.1,179.0 289.2,180.8 289.4,182.5 289.6,184.1 289.7,185.5 289.9,186.8 290.0,188.1 290.2,189.2 290.4,190.3 290.5,191.3 290.7,192.2 290.8,193.0 291.0,193.9 291.2,194.6 291.3,195.4 291.5,196.1 291.7,196.7 291.8,197.3 292.0,197.9 292.1,198.5 292.3,199.1 292.5,199.6 292.6,200.1 292.8,200.6 292.9,201.0 293.1,201.5 293.3,201.9 293.4,202.3 293.6,202.7 293.7,203.1 293.9,203.5 294.1,203.9 294.2,204.2 294.4,204.6 294.5,204.9 294.7,205.3 294.9,205.6 295.0,205.9 295.2,206.2 295.3,206.5 295.5,206.8 295.7,207.1 295.8,207.4 296.0,207.7 296.1,208.0 296.3,208.2 296.5,208.5 296.6,208.7 296.8,209.0 296.9,209.2 297.1,209.5 297.3,209.7 297.4,210.0 297.6,210.2 297.7,210.4 297.9,210.7 298.1,210.9 298.2,211.1 298.4,211.3 298.5,211.5 298.7,211.7 298.9,211.9 299.0,212.1 299.2,212.3 299.4,212.5 299.5,212.7 299.7,212.9 299.8,213.1 300.0,213.3 300.2,213.5 300.3,213.7 300.5,213.8 300.6,214.0 300.8,214.2 301.0,214.4 301.1,214.5 301.3,214.7 301.4,214.9 301.6,215.0 301.8,215.2 301.9,215.4 302.1,215.5 302.2,215.7 302.4,215.8 302.6,216.0 302.7,216.2 302.9,216.3 303.0,216.5 303.2,216.6 303.4,216.7 303.5,216.9 303.7,217.0 303.8,217.2 304.0,217.3 304.2,217.5 304.3,217.6 304.5,217.7 304.6,217.9 304.8,218.0 305.0,218.1 305.1,218.3 305.3,218.4 305.4,218.5 305.6,218.6 305.8,218.8 305.9,218.9 306.1,219.0 306.2,219.1 306.4,219.3 306.6,219.4 306.7,219.5 306.9,219.6 307.0,219.7 307.2,219.8 307.4,220.0 307.5,220.1 307.7,220.2 307.9,220.3 308.0,220.4 308.2,220.5 308.3,220.7 308.5,220.8 308.7,221.1 308.8,221.7 309.0,222.5 309.1,223.5 309.3,224.4 309.5,225.0 309.6,225.0 309.8,224.4 309.9,223.5 310.1,222.8 310.3,222.3 310.4,222.1 310.6,222.1 310.7,222.1 310.9,222.2 311.1,222.3 311.2,222.4 311.4,222.5 311.5,222.6 311.7,222.7 311.9,222.8 312.0,222.9 312.2,222.9 312.3,223.0 312.5,223.1 312.7,223.2 312.8,223.3 313.0,223.4 313.1,223.5 313.3,223.5 313.5,223.6 313.6,223.7 313.8,223.8 313.9,223.9 314.1,223.9 314.3,224.0 314.4,224.1 314.6,224.2 314.7,224.2 314.9,224.3 315.1,224.4 315.2,224.5 315.4,224.5 315.6,224.6 315.7,224.7 315.9,224.8 316.0,224.8 316.2,224.9 316.4,225.0 316.5,225.0 316.7,225.1 316.8,225.2 317.0,225.2 317.2,225.3 317.3,225.4 317.5,225.4 317.6,225.5 317.8,225.6 318.0,225.6 318.1,225.7 318.3,225.8 318.4,225.8 318.6,225.9 318.8,225.9 318.9,226.0 319.1,226.1 319.2,226.1 319.4,226.2 319.6,226.2 319.7,226.3 319.9,226.4 320.0,226.4 320.2,226.5 320.4,226.5 320.5,226.6 320.7,226.7 320.8,226.7 321.0,226.8 321.2,226.8 321.3,226.9 321.5,226.9 321.6,227.0 321.8,227.0 322.0,227.1 322.1,227.1 322.3,227.2 322.4,227.2 322.6,227.3 322.8,227.3 322.9,227.4 323.1,227.4 323.3,227.5 323.4,227.5 323.6,227.6 323.7,227.6 323.9,227.7 324.1,227.7 324.2,227.8 324.4,227.8 324.5,227.9 324.7,227.9 324.9,228.0 325.0,228.0 325.2,228.0 325.3,228.1 325.5,228.1 325.7,228.2 325.8,228.2 326.0,228.3 326.1,228.3 326.3,228.3 326.5,228.4 326.6,228.4 326.8,228.5 326.9,228.5 327.1,228.6 327.1,237.5" fill="url(#vg3)" stroke="#160a26" stroke-width="0.7" stroke-linejoin="round"/>
<rect x="254.4" y="243.1" width="64" height="3.6" fill="#d6d0e6"/>
<polygon points="253.4,255.2 253.4,234.1 253.6,234.1 253.7,234.1 253.9,234.1 254.0,234.0 254.2,234.0 254.4,234.0 254.5,234.0 254.7,234.0 254.8,233.9 255.0,233.9 255.2,233.9 255.3,233.9 255.5,233.8 255.6,233.8 255.8,233.8 256.0,233.8 256.1,233.7 256.3,233.7 256.4,233.7 256.6,233.6 256.8,233.6 256.9,233.6 257.1,233.5 257.2,233.5 257.4,233.5 257.6,233.4 257.7,233.4 257.9,233.4 258.1,233.3 258.2,233.3 258.4,233.3 258.5,233.2 258.7,233.2 258.9,233.2 259.0,233.1 259.2,233.1 259.3,233.0 259.5,233.0 259.7,232.9 259.8,232.9 260.0,232.8 260.1,232.8 260.3,232.7 260.5,232.7 260.6,232.6 260.8,232.6 260.9,232.5 261.1,232.5 261.3,232.4 261.4,232.3 261.6,232.3 261.7,232.2 261.9,232.1 262.1,232.1 262.2,232.0 262.4,231.9 262.5,231.9 262.7,231.8 262.9,231.7 263.0,231.6 263.2,231.5 263.3,231.5 263.5,231.4 263.7,231.3 263.8,231.2 264.0,231.1 264.1,231.0 264.3,230.9 264.5,230.8 264.6,230.7 264.8,230.6 264.9,230.4 265.1,230.3 265.3,230.2 265.4,230.1 265.6,229.9 265.8,229.8 265.9,229.7 266.1,229.5 266.2,229.4 266.4,229.2 266.6,229.0 266.7,228.9 266.9,228.7 267.0,228.5 267.2,228.3 267.4,228.1 267.5,227.9 267.7,227.7 267.8,227.5 268.0,227.3 268.2,227.0 268.3,226.8 268.5,226.5 268.6,226.3 268.8,226.0 269.0,225.7 269.1,225.4 269.3,225.1 269.4,224.8 269.6,224.5 269.8,224.1 269.9,223.8 270.1,223.4 270.2,223.0 270.4,222.6 270.6,222.1 270.7,221.7 270.9,221.2 271.0,220.7 271.2,220.1 271.4,219.6 271.5,219.0 271.7,218.4 271.8,217.7 272.0,217.0 272.2,216.3 272.3,215.5 272.5,214.6 272.6,213.7 272.8,212.8 273.0,211.7 273.1,210.6 273.3,209.4 273.5,208.1 273.6,206.7 273.8,205.2 273.9,203.5 274.1,201.7 274.3,199.7 274.4,197.6 274.6,195.4 274.7,193.0 274.9,190.5 275.1,187.9 275.2,185.4 275.4,183.0 275.5,180.8 275.7,179.0 275.9,177.7 276.0,177.0 276.2,177.2 276.3,178.1 276.5,179.7 276.7,181.8 276.8,184.3 277.0,187.0 277.1,189.8 277.3,192.6 277.5,195.4 277.6,198.0 277.8,200.4 277.9,202.7 278.1,204.8 278.3,206.7 278.4,208.5 278.6,210.1 278.7,211.6 278.9,213.0 279.1,214.2 279.2,215.3 279.4,216.4 279.5,217.3 279.7,218.2 279.9,219.0 280.0,219.8 280.2,220.5 280.3,221.2 280.5,221.8 280.7,222.4 280.8,222.9 281.0,223.5 281.1,224.0 281.3,224.4 281.5,224.9 281.6,225.3 281.8,225.7 282.0,226.1 282.1,226.4 282.3,226.8 282.4,227.1 282.6,227.5 282.8,227.8 282.9,228.1 283.1,228.4 283.2,228.6 283.4,228.9 283.6,229.2 283.7,229.4 283.9,229.7 284.0,229.9 284.2,230.2 284.4,230.4 284.5,230.6 284.7,230.9 284.8,231.1 285.0,231.3 285.2,231.5 285.3,231.7 285.5,231.9 285.6,232.1 285.8,232.3 286.0,232.5 286.1,232.6 286.3,232.8 286.4,233.0 286.6,233.2 286.8,233.3 286.9,233.5 287.1,233.7 287.2,233.8 287.4,234.0 287.6,234.1 287.7,234.3 287.9,234.4 288.0,234.6 288.2,234.7 288.4,234.9 288.5,235.0 288.7,235.1 288.8,235.3 289.0,235.4 289.2,235.5 289.3,235.7 289.5,235.8 289.7,235.9 289.8,236.1 290.0,236.2 290.1,236.3 290.3,236.4 290.5,236.6 290.6,236.7 290.8,236.8 290.9,236.9 291.1,237.0 291.3,237.1 291.4,237.3 291.6,237.4 291.7,237.5 291.9,237.6 292.1,237.7 292.2,237.8 292.4,237.9 292.5,238.0 292.7,238.1 292.9,238.2 293.0,238.3 293.2,238.4 293.3,238.5 293.5,238.6 293.7,238.7 293.8,238.8 294.0,238.9 294.1,239.0 294.3,239.1 294.5,239.2 294.6,239.3 294.8,239.3 294.9,239.4 295.1,239.5 295.3,239.6 295.4,239.7 295.6,239.8 295.7,239.9 295.9,239.9 296.1,240.0 296.2,240.1 296.4,240.2 296.5,240.3 296.7,240.3 296.9,240.4 297.0,240.5 297.2,240.7 297.3,240.9 297.5,241.4 297.7,242.2 297.8,243.2 298.0,244.1 298.2,244.7 298.3,244.6 298.5,244.0 298.6,243.2 298.8,242.4 299.0,241.9 299.1,241.7 299.3,241.6 299.4,241.6 299.6,241.7 299.8,241.7 299.9,241.8 300.1,241.9 300.2,241.9 300.4,242.0 300.6,242.1 300.7,242.1 300.9,242.2 301.0,242.2 301.2,242.3 301.4,242.4 301.5,242.4 301.7,242.5 301.8,242.5 302.0,242.6 302.2,242.7 302.3,242.7 302.5,242.8 302.6,242.8 302.8,242.9 303.0,242.9 303.1,243.0 303.3,243.1 303.4,243.1 303.6,243.2 303.8,243.2 303.9,243.3 304.1,243.3 304.2,243.4 304.4,243.4 304.6,243.5 304.7,243.5 304.9,243.6 305.0,243.6 305.2,243.7 305.4,243.7 305.5,243.8 305.7,243.8 305.9,243.9 306.0,243.9 306.2,244.0 306.3,244.0 306.5,244.1 306.7,244.1 306.8,244.2 307.0,244.2 307.1,244.2 307.3,244.3 307.5,244.3 307.6,244.4 307.8,244.4 307.9,244.5 308.1,244.5 308.3,244.6 308.4,244.6 308.6,244.6 308.7,244.7 308.9,244.7 309.1,244.8 309.2,244.8 309.4,244.8 309.5,244.9 309.7,244.9 309.9,245.0 310.0,245.0 310.2,245.0 310.3,245.1 310.5,245.1 310.7,245.1 310.8,245.2 311.0,245.2 311.1,245.3 311.3,245.3 311.5,245.3 311.6,245.4 311.8,245.4 311.9,245.4 312.1,245.5 312.3,245.5 312.4,245.5 312.6,245.6 312.7,245.6 312.9,245.6 313.1,245.7 313.2,245.7 313.4,245.7 313.6,245.8 313.7,245.8 313.9,245.8 314.0,245.9 314.2,245.9 314.4,245.9 314.5,246.0 314.7,246.0 314.8,246.0 315.0,246.1 315.2,246.1 315.3,246.1 315.5,246.1 315.6,246.2 315.8,246.2 316.0,246.2 316.1,246.3 316.3,246.3 316.4,246.3 316.6,246.3 316.8,246.4 316.9,246.4 317.1,246.4 317.2,246.5 317.4,246.5 317.4,255.2" fill="url(#vg2)" stroke="#160a26" stroke-width="0.7" stroke-linejoin="round"/>
<rect x="244.7" y="260.8" width="64" height="3.6" fill="#d6d0e6"/>
<polygon points="243.7,272.9 243.7,261.6 243.9,261.6 244.0,261.6 244.2,261.6 244.3,261.6 244.5,261.6 244.7,261.6 244.8,261.6 245.0,261.6 245.1,261.6 245.3,261.6 245.5,261.6 245.6,261.6 245.8,261.5 245.9,261.5 246.1,261.5 246.3,261.5 246.4,261.5 246.6,261.5 246.7,261.5 246.9,261.5 247.1,261.5 247.2,261.5 247.4,261.4 247.5,261.4 247.7,261.4 247.9,261.4 248.0,261.4 248.2,261.4 248.4,261.4 248.5,261.4 248.7,261.3 248.8,261.3 249.0,261.3 249.2,261.3 249.3,261.3 249.5,261.3 249.6,261.3 249.8,261.2 250.0,261.2 250.1,261.2 250.3,261.2 250.4,261.2 250.6,261.2 250.8,261.1 250.9,261.1 251.1,261.1 251.2,261.1 251.4,261.1 251.6,261.1 251.7,261.0 251.9,261.0 252.0,261.0 252.2,261.0 252.4,260.9 252.5,260.9 252.7,260.9 252.8,260.9 253.0,260.8 253.2,260.8 253.3,260.8 253.5,260.8 253.6,260.7 253.8,260.7 254.0,260.7 254.1,260.6 254.3,260.6 254.4,260.6 254.6,260.5 254.8,260.5 254.9,260.5 255.1,260.4 255.2,260.4 255.4,260.3 255.6,260.3 255.7,260.3 255.9,260.2 256.1,260.2 256.2,260.1 256.4,260.1 256.5,260.0 256.7,260.0 256.9,259.9 257.0,259.9 257.2,259.8 257.3,259.7 257.5,259.7 257.7,259.6 257.8,259.5 258.0,259.5 258.1,259.4 258.3,259.3 258.5,259.3 258.6,259.2 258.8,259.1 258.9,259.0 259.1,258.9 259.3,258.8 259.4,258.7 259.6,258.6 259.7,258.5 259.9,258.4 260.1,258.3 260.2,258.2 260.4,258.1 260.5,257.9 260.7,257.8 260.9,257.7 261.0,257.5 261.2,257.4 261.3,257.2 261.5,257.0 261.7,256.9 261.8,256.7 262.0,256.5 262.1,256.3 262.3,256.1 262.5,255.8 262.6,255.6 262.8,255.3 262.9,255.1 263.1,254.8 263.3,254.5 263.4,254.2 263.6,253.8 263.8,253.4 263.9,253.0 264.1,252.6 264.2,252.1 264.4,251.6 264.6,251.1 264.7,250.5 264.9,249.9 265.0,249.2 265.2,248.4 265.4,247.6 265.5,246.7 265.7,245.8 265.8,244.8 266.0,243.9 266.2,242.9 266.3,242.0 266.5,241.2 266.6,240.6 266.8,240.2 267.0,240.0 267.1,240.1 267.3,240.5 267.4,241.1 267.6,241.9 267.8,242.8 267.9,243.7 268.1,244.7 268.2,245.7 268.4,246.7 268.6,247.6 268.7,248.4 268.9,249.2 269.0,249.9 269.2,250.6 269.4,251.2 269.5,251.7 269.7,252.2 269.8,252.7 270.0,253.1 270.2,253.5 270.3,253.9 270.5,254.2 270.6,254.5 270.8,254.8 271.0,255.0 271.1,255.3 271.3,255.5 271.4,255.7 271.6,255.9 271.8,256.1 271.9,256.3 272.1,256.5 272.3,256.6 272.4,256.8 272.6,256.9 272.7,257.1 272.9,257.2 273.1,257.3 273.2,257.5 273.4,257.6 273.5,257.7 273.7,257.8 273.9,257.9 274.0,258.0 274.2,258.1 274.3,258.2 274.5,258.3 274.7,258.4 274.8,258.5 275.0,258.6 275.1,258.6 275.3,258.7 275.5,258.8 275.6,258.9 275.8,258.9 275.9,259.0 276.1,259.1 276.3,259.2 276.4,259.2 276.6,259.3 276.7,259.4 276.9,259.4 277.1,259.5 277.2,259.6 277.4,259.6 277.5,259.7 277.7,259.7 277.9,259.8 278.0,259.8 278.2,259.9 278.3,260.0 278.5,260.0 278.7,260.1 278.8,260.1 279.0,260.2 279.1,260.2 279.3,260.3 279.5,260.3 279.6,260.4 279.8,260.4 280.0,260.5 280.1,260.5 280.3,260.6 280.4,260.6 280.6,260.6 280.8,260.7 280.9,260.7 281.1,260.8 281.2,260.8 281.4,260.9 281.6,260.9 281.7,260.9 281.9,261.0 282.0,261.0 282.2,261.1 282.4,261.1 282.5,261.1 282.7,261.2 282.8,261.2 283.0,261.3 283.2,261.3 283.3,261.3 283.5,261.4 283.6,261.4 283.8,261.4 284.0,261.5 284.1,261.5 284.3,261.5 284.4,261.6 284.6,261.6 284.8,261.6 284.9,261.7 285.1,261.7 285.2,261.7 285.4,261.8 285.6,261.8 285.7,261.8 285.9,261.9 286.0,261.9 286.2,261.9 286.4,262.0 286.5,262.0 286.7,262.0 286.8,262.1 287.0,262.2 287.2,262.5 287.3,263.0 287.5,263.8 287.6,264.8 287.8,265.6 288.0,265.9 288.1,265.6 288.3,264.8 288.5,263.9 288.6,263.2 288.8,262.7 288.9,262.5 289.1,262.5 289.3,262.5 289.4,262.5 289.6,262.5 289.7,262.5 289.9,262.5 290.1,262.6 290.2,262.6 290.4,262.6 290.5,262.6 290.7,262.7 290.9,262.7 291.0,262.7 291.2,262.7 291.3,262.8 291.5,262.8 291.7,262.8 291.8,262.8 292.0,262.8 292.1,262.9 292.3,262.9 292.5,262.9 292.6,262.9 292.8,262.9 292.9,263.0 293.1,263.0 293.3,263.0 293.4,263.0 293.6,263.1 293.7,263.1 293.9,263.1 294.1,263.1 294.2,263.1 294.4,263.1 294.5,263.2 294.7,263.2 294.9,263.2 295.0,263.2 295.2,263.2 295.3,263.3 295.5,263.3 295.7,263.3 295.8,263.3 296.0,263.3 296.2,263.3 296.3,263.4 296.5,263.4 296.6,263.4 296.8,263.4 297.0,263.4 297.1,263.4 297.3,263.5 297.4,263.5 297.6,263.5 297.8,263.5 297.9,263.5 298.1,263.5 298.2,263.6 298.4,263.6 298.6,263.6 298.7,263.6 298.9,263.6 299.0,263.6 299.2,263.7 299.4,263.7 299.5,263.7 299.7,263.7 299.8,263.7 300.0,263.7 300.2,263.7 300.3,263.8 300.5,263.8 300.6,263.8 300.8,263.8 301.0,263.8 301.1,263.8 301.3,263.8 301.4,263.8 301.6,263.9 301.8,263.9 301.9,263.9 302.1,263.9 302.2,263.9 302.4,263.9 302.6,263.9 302.7,263.9 302.9,264.0 303.0,264.0 303.2,264.0 303.4,264.0 303.5,264.0 303.7,264.0 303.9,264.0 304.0,264.0 304.2,264.1 304.3,264.1 304.5,264.1 304.7,264.1 304.8,264.1 305.0,264.1 305.1,264.1 305.3,264.1 305.5,264.1 305.6,264.2 305.8,264.2 305.9,264.2 306.1,264.2 306.3,264.2 306.4,264.2 306.6,264.2 306.7,264.2 306.9,264.2 307.1,264.2 307.2,264.3 307.4,264.3 307.5,264.3 307.7,264.3 307.7,272.9" fill="url(#vg1)" stroke="#160a26" stroke-width="0.7" stroke-linejoin="round"/>
<rect x="235.0" y="278.5" width="64" height="3.6" fill="#d6d0e6"/>
<polygon points="234.0,290.6 234.0,281.7 234.2,281.7 234.3,281.7 234.5,281.7 234.6,281.7 234.8,281.7 235.0,281.7 235.1,281.7 235.3,281.7 235.4,281.7 235.6,281.7 235.8,281.7 235.9,281.7 236.1,281.7 236.2,281.7 236.4,281.7 236.6,281.7 236.7,281.7 236.9,281.7 237.0,281.7 237.2,281.7 237.4,281.7 237.5,281.7 237.7,281.7 237.8,281.7 238.0,281.7 238.2,281.7 238.3,281.7 238.5,281.7 238.7,281.7 238.8,281.7 239.0,281.7 239.1,281.7 239.3,281.7 239.5,281.7 239.6,281.7 239.8,281.7 239.9,281.7 240.1,281.7 240.3,281.7 240.4,281.7 240.6,281.7 240.7,281.7 240.9,281.7 241.1,281.7 241.2,281.7 241.4,281.7 241.5,281.7 241.7,281.7 241.9,281.7 242.0,281.7 242.2,281.7 242.3,281.7 242.5,281.7 242.7,281.7 242.8,281.7 243.0,281.7 243.1,281.7 243.3,281.7 243.5,281.7 243.6,281.7 243.8,281.7 243.9,281.7 244.1,281.7 244.3,281.7 244.4,281.7 244.6,281.7 244.7,281.7 244.9,281.7 245.1,281.7 245.2,281.7 245.4,281.7 245.5,281.7 245.7,281.7 245.9,281.7 246.0,281.7 246.2,281.7 246.4,281.7 246.5,281.7 246.7,281.7 246.8,281.7 247.0,281.7 247.2,281.7 247.3,281.7 247.5,281.7 247.6,281.7 247.8,281.7 248.0,281.7 248.1,281.7 248.3,281.7 248.4,281.7 248.6,281.7 248.8,281.7 248.9,281.7 249.1,281.7 249.2,281.7 249.4,281.7 249.6,281.7 249.7,281.7 249.9,281.7 250.0,281.7 250.2,281.7 250.4,281.7 250.5,281.7 250.7,281.7 250.8,281.7 251.0,281.7 251.2,281.7 251.3,281.7 251.5,281.7 251.6,281.7 251.8,281.7 252.0,281.7 252.1,281.7 252.3,281.7 252.4,281.7 252.6,281.7 252.8,281.7 252.9,281.7 253.1,281.7 253.2,281.7 253.4,281.7 253.6,281.7 253.7,281.7 253.9,281.7 254.1,281.7 254.2,281.7 254.4,281.7 254.5,281.7 254.7,281.7 254.9,281.7 255.0,281.7 255.2,281.7 255.3,281.7 255.5,281.7 255.7,281.7 255.8,281.7 256.0,281.7 256.1,281.7 256.3,281.7 256.5,281.7 256.6,281.7 256.8,281.7 256.9,281.7 257.1,281.7 257.3,281.7 257.4,281.7 257.6,281.7 257.7,281.7 257.9,281.7 258.1,281.7 258.2,281.7 258.4,281.7 258.5,281.7 258.7,281.7 258.9,281.7 259.0,281.7 259.2,281.7 259.3,281.7 259.5,281.7 259.7,281.7 259.8,281.7 260.0,281.7 260.1,281.7 260.3,281.7 260.5,281.7 260.6,281.7 260.8,281.7 260.9,281.7 261.1,281.7 261.3,281.7 261.4,281.7 261.6,281.7 261.7,281.7 261.9,281.7 262.1,281.7 262.2,281.7 262.4,281.7 262.6,281.7 262.7,281.7 262.9,281.7 263.0,281.7 263.2,281.7 263.4,281.7 263.5,281.7 263.7,281.7 263.8,281.7 264.0,281.7 264.2,281.7 264.3,281.7 264.5,281.7 264.6,281.7 264.8,281.7 265.0,281.7 265.1,281.7 265.3,281.7 265.4,281.7 265.6,281.7 265.8,281.7 265.9,281.7 266.1,281.7 266.2,281.7 266.4,281.7 266.6,281.7 266.7,281.7 266.9,281.7 267.0,281.7 267.2,281.7 267.4,281.7 267.5,281.7 267.7,281.7 267.8,281.7 268.0,281.7 268.2,281.7 268.3,281.7 268.5,281.7 268.6,281.7 268.8,281.7 269.0,281.7 269.1,281.7 269.3,281.7 269.4,281.7 269.6,281.7 269.8,281.7 269.9,281.7 270.1,281.7 270.3,281.7 270.4,281.7 270.6,281.7 270.7,281.7 270.9,281.7 271.1,281.7 271.2,281.7 271.4,281.7 271.5,281.7 271.7,281.7 271.9,281.7 272.0,281.7 272.2,281.7 272.3,281.7 272.5,281.7 272.7,281.7 272.8,281.7 273.0,281.7 273.1,281.7 273.3,281.7 273.5,281.7 273.6,281.7 273.8,281.7 273.9,281.7 274.1,281.7 274.3,281.7 274.4,281.7 274.6,281.7 274.7,281.7 274.9,281.7 275.1,281.7 275.2,281.7 275.4,281.7 275.5,281.7 275.7,281.7 275.9,281.7 276.0,281.7 276.2,281.7 276.3,281.7 276.5,281.7 276.7,281.7 276.8,281.7 277.0,281.7 277.1,281.7 277.3,281.7 277.5,281.7 277.6,281.7 277.8,281.7 277.9,281.7 278.1,281.7 278.3,281.7 278.4,281.7 278.6,281.7 278.8,281.7 278.9,281.7 279.1,281.7 279.2,281.7 279.4,281.7 279.6,281.7 279.7,281.7 279.9,281.7 280.0,281.7 280.2,281.7 280.4,281.7 280.5,281.7 280.7,281.7 280.8,281.7 281.0,281.7 281.2,281.7 281.3,281.7 281.5,281.7 281.6,281.7 281.8,281.7 282.0,281.7 282.1,281.7 282.3,281.7 282.4,281.7 282.6,281.7 282.8,281.7 282.9,281.7 283.1,281.7 283.2,281.7 283.4,281.7 283.6,281.7 283.7,281.7 283.9,281.7 284.0,281.7 284.2,281.7 284.4,281.7 284.5,281.7 284.7,281.7 284.8,281.7 285.0,281.7 285.2,281.7 285.3,281.7 285.5,281.7 285.6,281.7 285.8,281.7 286.0,281.7 286.1,281.7 286.3,281.7 286.5,281.7 286.6,281.7 286.8,281.7 286.9,281.7 287.1,281.7 287.3,281.7 287.4,281.7 287.6,281.7 287.7,281.7 287.9,281.7 288.1,281.7 288.2,281.7 288.4,281.7 288.5,281.7 288.7,281.7 288.9,281.7 289.0,281.7 289.2,281.7 289.3,281.7 289.5,281.7 289.7,281.7 289.8,281.7 290.0,281.7 290.1,281.7 290.3,281.7 290.5,281.7 290.6,281.7 290.8,281.7 290.9,281.7 291.1,281.7 291.3,281.7 291.4,281.7 291.6,281.7 291.7,281.7 291.9,281.7 292.1,281.7 292.2,281.7 292.4,281.7 292.5,281.7 292.7,281.7 292.9,281.7 293.0,281.7 293.2,281.7 293.3,281.7 293.5,281.7 293.7,281.7 293.8,281.7 294.0,281.7 294.2,281.7 294.3,281.7 294.5,281.7 294.6,281.7 294.8,281.7 295.0,281.7 295.1,281.7 295.3,281.7 295.4,281.7 295.6,281.7 295.8,281.7 295.9,281.7 296.1,281.7 296.2,281.7 296.4,281.7 296.6,281.7 296.7,281.7 296.9,281.7 297.0,281.7 297.2,281.7 297.4,281.7 297.5,281.7 297.7,281.7 297.8,281.7 298.0,281.7 298.0,290.6" fill="url(#vg0)" stroke="#160a26" stroke-width="0.7" stroke-linejoin="round"/>
<path d="M229.6,124.4 L229.6,300.4 L294.0,300.4 L346.3,202.7" fill="none" stroke="#111" stroke-width="1.2" stroke-linejoin="miter"/>
<line x1="229.6" y1="291.5" x2="233.6" y2="291.5" stroke="#111" stroke-width="1"/>
<text x="224.0" y="294.5" font-size="8.7" text-anchor="end" fill="#111" textLength="10.2" lengthAdjust="spacingAndGlyphs">0.0</text>
<line x1="229.6" y1="273.0" x2="232.0" y2="273.0" stroke="#111" stroke-width="1"/>
<line x1="229.6" y1="254.5" x2="233.6" y2="254.5" stroke="#111" stroke-width="1"/>
<text x="224.0" y="257.5" font-size="8.7" text-anchor="end" fill="#111" textLength="10.2" lengthAdjust="spacingAndGlyphs">0.2</text>
<line x1="229.6" y1="236.0" x2="232.0" y2="236.0" stroke="#111" stroke-width="1"/>
<line x1="229.6" y1="217.5" x2="233.6" y2="217.5" stroke="#111" stroke-width="1"/>
<text x="224.0" y="220.5" font-size="8.7" text-anchor="end" fill="#111" textLength="10.2" lengthAdjust="spacingAndGlyphs">0.4</text>
<line x1="229.6" y1="199.0" x2="232.0" y2="199.0" stroke="#111" stroke-width="1"/>
<line x1="229.6" y1="180.5" x2="233.6" y2="180.5" stroke="#111" stroke-width="1"/>
<text x="224.0" y="183.5" font-size="8.7" text-anchor="end" fill="#111" textLength="10.2" lengthAdjust="spacingAndGlyphs">0.6</text>
<line x1="229.6" y1="162.0" x2="232.0" y2="162.0" stroke="#111" stroke-width="1"/>
<line x1="229.6" y1="143.5" x2="233.6" y2="143.5" stroke="#111" stroke-width="1"/>
<text x="224.0" y="146.5" font-size="8.7" text-anchor="end" fill="#111" textLength="10.2" lengthAdjust="spacingAndGlyphs">0.8</text>
<line x1="229.6" y1="125.0" x2="232.0" y2="125.0" stroke="#111" stroke-width="1"/>
<line x1="229.6" y1="124.4" x2="233.6" y2="124.4" stroke="#111" stroke-width="1"/>
<line x1="229.6" y1="300.4" x2="229.6" y2="295.2" stroke="#111" stroke-width="1"/>
<line x1="235.0" y1="300.4" x2="235.0" y2="297.2" stroke="#111" stroke-width="1"/>
<line x1="240.3" y1="300.4" x2="240.3" y2="295.2" stroke="#111" stroke-width="1"/>
<line x1="245.7" y1="300.4" x2="245.7" y2="297.2" stroke="#111" stroke-width="1"/>
<line x1="251.1" y1="300.4" x2="251.1" y2="295.2" stroke="#111" stroke-width="1"/>
<line x1="256.4" y1="300.4" x2="256.4" y2="297.2" stroke="#111" stroke-width="1"/>
<line x1="261.8" y1="300.4" x2="261.8" y2="295.2" stroke="#111" stroke-width="1"/>
<line x1="267.2" y1="300.4" x2="267.2" y2="297.2" stroke="#111" stroke-width="1"/>
<line x1="272.5" y1="300.4" x2="272.5" y2="295.2" stroke="#111" stroke-width="1"/>
<line x1="277.9" y1="300.4" x2="277.9" y2="297.2" stroke="#111" stroke-width="1"/>
<line x1="283.3" y1="300.4" x2="283.3" y2="295.2" stroke="#111" stroke-width="1"/>
<line x1="288.6" y1="300.4" x2="288.6" y2="297.2" stroke="#111" stroke-width="1"/>
<line x1="294.0" y1="300.4" x2="294.0" y2="295.2" stroke="#111" stroke-width="1"/>
<text x="229.4"  y="315.6" font-size="8.4" text-anchor="middle" fill="#111" textLength="7.6" lengthAdjust="spacingAndGlyphs">12</text>
<text x="240.2"  y="315.6" font-size="8.4" text-anchor="middle" fill="#111" textLength="7.6" lengthAdjust="spacingAndGlyphs">13</text>
<text x="251.0"  y="315.6" font-size="8.4" text-anchor="middle" fill="#111" textLength="7.6" lengthAdjust="spacingAndGlyphs">14</text>
<text x="261.8"  y="315.6" font-size="8.4" text-anchor="middle" fill="#111" textLength="7.6" lengthAdjust="spacingAndGlyphs">15</text>
<text x="272.6"  y="315.6" font-size="8.4" text-anchor="middle" fill="#111" textLength="7.6" lengthAdjust="spacingAndGlyphs">16</text>
<text x="283.4"  y="315.6" font-size="8.4" text-anchor="middle" fill="#111" textLength="7.6" lengthAdjust="spacingAndGlyphs">17</text>
<text x="294.2"  y="315.6" font-size="8.4" text-anchor="middle" fill="#111" textLength="7.6" lengthAdjust="spacingAndGlyphs">18</text>
<text x="262" y="331.6" font-size="11" text-anchor="middle" fill="#111" textLength="70.8" lengthAdjust="spacingAndGlyphs">Frequency (GHz)</text>
<line x1="299.3" y1="290.6" x2="295.3" y2="290.6" stroke="#111" stroke-width="1"/>
<text x="303.3" y="293.8" font-size="8.5" fill="#111" textLength="28" lengthAdjust="spacingAndGlyphs">d = 0mm</text>
<line x1="308.9" y1="272.9" x2="304.9" y2="272.9" stroke="#111" stroke-width="1"/>
<text x="312.8" y="275.8" font-size="8.5" fill="#111" textLength="28" lengthAdjust="spacingAndGlyphs">d = 1mm</text>
<line x1="318.5" y1="255.2" x2="314.5" y2="255.2" stroke="#111" stroke-width="1"/>
<text x="322.3" y="257.8" font-size="8.5" fill="#111" textLength="28" lengthAdjust="spacingAndGlyphs">d = 2mm</text>
<line x1="328.1" y1="237.5" x2="324.1" y2="237.5" stroke="#111" stroke-width="1"/>
<text x="331.8" y="239.8" font-size="8.5" fill="#111" textLength="28" lengthAdjust="spacingAndGlyphs">d = 3mm</text>
<line x1="337.7" y1="219.8" x2="333.7" y2="219.8" stroke="#111" stroke-width="1"/>
<text x="341.3" y="221.8" font-size="8.5" fill="#111" textLength="28" lengthAdjust="spacingAndGlyphs">d = 4mm</text>
<line x1="347.3" y1="202.1" x2="343.3" y2="202.1" stroke="#111" stroke-width="1"/>
<text x="350.8" y="203.8" font-size="8.5" fill="#111" textLength="28" lengthAdjust="spacingAndGlyphs">d = 5mm</text>
<text transform="translate(209.4,211.2) rotate(-90)" font-size="11.4" text-anchor="middle" fill="#111" textLength="105.5" lengthAdjust="spacingAndGlyphs">Circular Dichroism</text>
<text transform="translate(362,250.6) rotate(-57.8)" font-size="7.9" text-anchor="middle" fill="#111">Bilayer offset d</text>
<defs><marker id="mk" viewBox="0 0 10 10" refX="7" refY="5" markerWidth="5" markerHeight="5" orient="auto"><path d="M0,1.5 L10,5 L0,8.5 z" fill="#111"/></marker></defs>
<line x1="309.3" y1="44.8" x2="318.9" y2="26.6" stroke="#111" stroke-width="0.9" marker-end="url(#mk)"/>
<text x="323.5" y="23.6" font-size="10" text-anchor="middle" fill="#111" textLength="15.8" lengthAdjust="spacingAndGlyphs">0.80</text>
<text x="197.8" y="9.1" font-size="10" font-weight="bold" fill="#111">(b)</text>
</g>
<g id="pc">
<defs>
<radialGradient id="hotR" cx="0.5" cy="0.5" r="0.5"><stop offset="0" stop-color="#8a0000" stop-opacity="1"/><stop offset="0.22" stop-color="#e01000" stop-opacity="1"/><stop offset="0.4" stop-color="#ff7000" stop-opacity="1"/><stop offset="0.52" stop-color="#ffe000" stop-opacity="1"/><stop offset="0.63" stop-color="#90ff70" stop-opacity="1"/><stop offset="0.75" stop-color="#30e8f0" stop-opacity="0.95"/><stop offset="0.9" stop-color="#30a0ff" stop-opacity="0.5"/><stop offset="1" stop-color="#2878ff" stop-opacity="0"/></radialGradient>
<radialGradient id="hotY" cx="0.5" cy="0.5" r="0.5"><stop offset="0" stop-color="#ff6a00" stop-opacity="1"/><stop offset="0.25" stop-color="#ffc000" stop-opacity="1"/><stop offset="0.42" stop-color="#f0f040" stop-opacity="1"/><stop offset="0.58" stop-color="#80ff90" stop-opacity="1"/><stop offset="0.74" stop-color="#30e0f0" stop-opacity="0.9"/><stop offset="0.9" stop-color="#30a0ff" stop-opacity="0.45"/><stop offset="1" stop-color="#2878ff" stop-opacity="0"/></radialGradient>
<radialGradient id="hotC" cx="0.5" cy="0.5" r="0.5"><stop offset="0" stop-color="#60ffd0" stop-opacity="0.95"/><stop offset="0.4" stop-color="#38d8ff" stop-opacity="0.8"/><stop offset="0.75" stop-color="#2c98ff" stop-opacity="0.4"/><stop offset="1" stop-color="#2878ff" stop-opacity="0"/></radialGradient>
<radialGradient id="hotG" cx="0.5" cy="0.5" r="0.5"><stop offset="0" stop-color="#d0ff40" stop-opacity="1"/><stop offset="0.3" stop-color="#70ffa0" stop-opacity="0.95"/><stop offset="0.6" stop-color="#38d8ff" stop-opacity="0.7"/><stop offset="1" stop-color="#2c88ff" stop-opacity="0"/></radialGradient>
<radialGradient id="hotB" cx="0.5" cy="0.5" r="0.5"><stop offset="0" stop-color="#3aa8ff" stop-opacity="0.9"/><stop offset="0.6" stop-color="#2c80ff" stop-opacity="0.5"/><stop offset="1" stop-color="#2060ff" stop-opacity="0"/></radialGradient>
<radialGradient id="dark" cx="0.5" cy="0.5" r="0.5"><stop offset="0" stop-color="#0a12a8" stop-opacity="0.85"/><stop offset="0.6" stop-color="#0c18b8" stop-opacity="0.4"/><stop offset="1" stop-color="#1020c0" stop-opacity="0"/></radialGradient>
<radialGradient id="glowW" cx="0.5" cy="0.5" r="0.5"><stop offset="0" stop-color="#e8f8ff" stop-opacity="1"/><stop offset="0.3" stop-color="#70d8ff" stop-opacity="0.9"/><stop offset="0.65" stop-color="#3060ff" stop-opacity="0.5"/><stop offset="1" stop-color="#2030e0" stop-opacity="0"/></radialGradient>
<radialGradient id="glowP" cx="0.5" cy="0.5" r="0.5"><stop offset="0" stop-color="#ff60c0" stop-opacity="1"/><stop offset="0.4" stop-color="#d040e0" stop-opacity="0.8"/><stop offset="1" stop-color="#6020d0" stop-opacity="0"/></radialGradient>
<clipPath id="usq"><rect x="0" y="0" width="1" height="1"/></clipPath>
<filter id="bl1" x="-20%" y="-20%" width="140%" height="140%"><feGaussianBlur stdDeviation="0.012"/></filter>
<linearGradient id="navy" x1="0" y1="0" x2="1" y2="1"><stop offset="0" stop-color="#1416b0"/><stop offset="0.5" stop-color="#0e109c"/><stop offset="1" stop-color="#1618b4"/></linearGradient>
<linearGradient id="cbar" x1="0" y1="0" x2="0" y2="1"><stop offset="0" stop-color="#800000"/><stop offset="0.1" stop-color="#e00000"/><stop offset="0.3" stop-color="#ff9000"/><stop offset="0.42" stop-color="#f8f000"/><stop offset="0.55" stop-color="#80ff80"/><stop offset="0.66" stop-color="#20d0f8"/><stop offset="0.78" stop-color="#1050ff"/><stop offset="0.9" stop-color="#0000c8"/><stop offset="1" stop-color="#000078"/></linearGradient>
<marker id="mc" viewBox="0 0 10 10" refX="6" refY="5" markerWidth="4.4" markerHeight="4.4" orient="auto"><path d="M0,1 L10,5 L0,9 z" fill="#3d6fc0"/></marker>
</defs>
<text x="370" y="9.1" font-size="10" font-weight="bold" fill="#111">(c)</text>
<text x="440.5" y="10.4" font-size="7.5" font-weight="bold" fill="#222" text-anchor="middle">Under LCP Incidence</text>
<text x="440.5" y="187" font-size="7.5" font-weight="bold" fill="#222" text-anchor="middle">Under RCP Incidence</text>
<line x1="391.2" y1="48.0" x2="391.2" y2="143.5" stroke="#111" stroke-width="1.4"/>
<line x1="490.6" y1="48.0" x2="490.6" y2="143.5" stroke="#111" stroke-width="1.4"/>
<g transform="matrix(50.6,29.0,-48.6,29.0,440.4,114.5)"><g clip-path="url(#usq)">
<rect x="0" y="0" width="1" height="1" fill="url(#navy)"/>
<ellipse cx="0.5" cy="0.5" rx="0.3" ry="0.3" fill="url(#dark)" opacity="0.9"/>
<ellipse cx="0.09" cy="0.4" rx="0.05" ry="0.3" fill="url(#hotB)" opacity="0.8"/>
<ellipse cx="0.4" cy="0.09" rx="0.3" ry="0.05" fill="url(#hotB)" opacity="0.8"/>
<path d="M0.1,0.1 L0.9,0.1 L0.9,0.9 L0.1,0.9 Z" fill="none" stroke="#4a2ce0" stroke-width="0.078" stroke-opacity="0.5" stroke-linecap="butt"/><path d="M0.1,0.1 L0.9,0.1 L0.9,0.9 L0.1,0.9 Z" fill="none" stroke="#b844e8" stroke-width="0.03" stroke-dasharray="0.002 0.056" stroke-linecap="round" stroke-opacity="0.85"/>
<ellipse cx="0.1" cy="0.4" rx="0.07" ry="0.22" fill="url(#hotB)" opacity="1"/>
<ellipse cx="0.42" cy="0.1" rx="0.22" ry="0.07" fill="url(#hotB)" opacity="1"/>
<ellipse cx="0.1" cy="0.4" rx="0.04" ry="0.15" fill="url(#glowW)" opacity="1"/>
<ellipse cx="0.43" cy="0.1" rx="0.15" ry="0.04" fill="url(#glowW)" opacity="1"/>
</g></g>
<g transform="matrix(50.6,29.0,-48.6,29.0,440.4,67.0)"><g clip-path="url(#usq)">
<rect x="0" y="0" width="1" height="1" fill="#1a40ec"/>
<ellipse cx="0.25" cy="0.55" rx="0.42" ry="0.5" fill="url(#hotB)" opacity="1"/>
<ellipse cx="0.75" cy="0.75" rx="0.3" ry="0.3" fill="url(#hotB)" opacity="0.9"/>
<ellipse cx="0.27" cy="0.52" rx="0.36" ry="0.5" fill="url(#hotC)" opacity="0.95"/>
<ellipse cx="0.93" cy="0.93" rx="0.16" ry="0.16" fill="url(#hotG)" opacity="0.95"/>
<ellipse cx="0.8" cy="0.2" rx="0.2" ry="0.06" fill="url(#hotC)" opacity="0.7"/>
<ellipse cx="0.97" cy="0.4" rx="0.05" ry="0.2" fill="url(#hotC)" opacity="0.8"/>
<ellipse cx="0.62" cy="0.9" rx="0.2" ry="0.06" fill="url(#hotC)" opacity="0.6"/>
<ellipse cx="0.33" cy="0.82" rx="0.05" ry="0.09" fill="url(#dark)" opacity="0.9"/>
<ellipse cx="0.6" cy="0.3" rx="0.06" ry="0.12" fill="url(#dark)" opacity="0.8"/>
<ellipse cx="0.62" cy="0.62" rx="0.08" ry="0.08" fill="url(#dark)" opacity="0.6"/>
<ellipse cx="0.15" cy="0.9" rx="0.25" ry="0.115" fill="url(#hotR)" opacity="1"/>
<ellipse cx="0.1" cy="0.42" rx="0.17" ry="0.16" fill="url(#hotR)" opacity="1"/>
<ellipse cx="0.4" cy="0.6" rx="0.18" ry="0.17" fill="url(#hotR)" opacity="1"/>
<ellipse cx="0.36" cy="0.12" rx="0.27" ry="0.115" fill="url(#hotR)" opacity="1"/>
</g></g>
<g transform="matrix(50.6,29.0,-48.6,29.0,440.4,19.0)"><g clip-path="url(#usq)">
<rect x="0" y="0" width="1" height="1" fill="url(#navy)"/>
<ellipse cx="0.2" cy="0.5" rx="0.18" ry="0.3" fill="url(#dark)" opacity="1"/>
<ellipse cx="0.82" cy="0.5" rx="0.16" ry="0.3" fill="url(#dark)" opacity="1"/>
<ellipse cx="0.5" cy="0.5" rx="0.1" ry="0.3" fill="url(#dark)" opacity="0.7"/>
<ellipse cx="0.37" cy="0.5" rx="0.06" ry="0.42" fill="url(#hotB)" opacity="0.8"/>
<ellipse cx="0.64" cy="0.5" rx="0.05" ry="0.4" fill="url(#hotB)" opacity="0.5"/>
<ellipse cx="0.03" cy="0.97" rx="0.12" ry="0.06" fill="url(#hotB)" opacity="0.9"/>
<path d="M0,0.11 L0.36,0.11 L0.36,0.89 L0,0.9" fill="none" stroke="#4a2ce0" stroke-width="0.078" stroke-opacity="0.5" stroke-linecap="butt"/><path d="M0,0.11 L0.36,0.11 L0.36,0.89 L0,0.9" fill="none" stroke="#b844e8" stroke-width="0.03" stroke-dasharray="0.002 0.056" stroke-linecap="round" stroke-opacity="0.85"/>
<path d="M1,0.12 L0.645,0.12 L0.645,0.89 L0.95,0.9" fill="none" stroke="#4a2ce0" stroke-width="0.078" stroke-opacity="0.5" stroke-linecap="butt"/><path d="M1,0.12 L0.645,0.12 L0.645,0.89 L0.95,0.9" fill="none" stroke="#b844e8" stroke-width="0.03" stroke-dasharray="0.002 0.056" stroke-linecap="round" stroke-opacity="0.85"/>
<ellipse cx="0.37" cy="0.53" rx="0.03" ry="0.07" fill="url(#glowW)" opacity="0.95"/>
</g></g>
<line x1="391.2" y1="226.0" x2="391.2" y2="319.5" stroke="#111" stroke-width="1.4"/>
<line x1="490.6" y1="226.0" x2="490.6" y2="319.5" stroke="#111" stroke-width="1.4"/>
<g transform="matrix(50.6,29.0,-48.6,29.0,440.4,290.5)"><g clip-path="url(#usq)">
<rect x="0" y="0" width="1" height="1" fill="url(#navy)"/>
<ellipse cx="0.5" cy="0.5" rx="0.3" ry="0.3" fill="url(#dark)" opacity="0.9"/>
<ellipse cx="0.09" cy="0.4" rx="0.05" ry="0.3" fill="url(#hotB)" opacity="0.8"/>
<ellipse cx="0.4" cy="0.09" rx="0.3" ry="0.05" fill="url(#hotB)" opacity="0.8"/>
<path d="M0.1,0.1 L0.9,0.1 L0.9,0.9 L0.1,0.9 Z" fill="none" stroke="#4a2ce0" stroke-width="0.078" stroke-opacity="0.5" stroke-linecap="butt"/><path d="M0.1,0.1 L0.9,0.1 L0.9,0.9 L0.1,0.9 Z" fill="none" stroke="#b844e8" stroke-width="0.03" stroke-dasharray="0.002 0.056" stroke-linecap="round" stroke-opacity="0.85"/>
<ellipse cx="0.1" cy="0.4" rx="0.07" ry="0.22" fill="url(#hotB)" opacity="1"/>
<ellipse cx="0.42" cy="0.1" rx="0.22" ry="0.07" fill="url(#hotB)" opacity="1"/>
<ellipse cx="0.1" cy="0.4" rx="0.04" ry="0.15" fill="url(#glowW)" opacity="1"/>
<ellipse cx="0.43" cy="0.1" rx="0.15" ry="0.04" fill="url(#glowW)" opacity="1"/>
<ellipse cx="0.09" cy="0.44" rx="0.016" ry="0.03" fill="url(#glowP)" opacity="1"/>
<ellipse cx="0.47" cy="0.09" rx="0.03" ry="0.016" fill="url(#glowP)" opacity="1"/>
</g></g>
<g transform="matrix(50.6,29.0,-48.6,29.0,440.4,245.0)"><g clip-path="url(#usq)">
<rect x="0" y="0" width="1" height="1" fill="#2468f8"/>
<ellipse cx="0.28" cy="0.52" rx="0.55" ry="0.62" fill="url(#hotC)" opacity="1"/>
<ellipse cx="0.25" cy="0.6" rx="0.36" ry="0.42" fill="url(#hotC)" opacity="0.8"/>
<ellipse cx="0.78" cy="0.78" rx="0.35" ry="0.35" fill="url(#hotB)" opacity="1"/>
<ellipse cx="0.93" cy="0.93" rx="0.17" ry="0.17" fill="url(#hotG)" opacity="1"/>
<ellipse cx="0.8" cy="0.17" rx="0.22" ry="0.07" fill="url(#hotC)" opacity="0.9"/>
<ellipse cx="0.97" cy="0.4" rx="0.05" ry="0.2" fill="url(#hotC)" opacity="0.9"/>
<ellipse cx="0.62" cy="0.9" rx="0.2" ry="0.06" fill="url(#hotC)" opacity="0.8"/>
<ellipse cx="0.33" cy="0.8" rx="0.04" ry="0.08" fill="url(#dark)" opacity="0.9"/>
<ellipse cx="0.27" cy="0.33" rx="0.05" ry="0.06" fill="url(#dark)" opacity="0.8"/>
<ellipse cx="0.62" cy="0.3" rx="0.05" ry="0.1" fill="url(#dark)" opacity="0.75"/>
<ellipse cx="0.8" cy="0.55" rx="0.2" ry="0.25" fill="url(#dark)" opacity="0.35"/>
<ellipse cx="0.16" cy="0.89" rx="0.29" ry="0.14" fill="url(#hotR)" opacity="1"/>
<ellipse cx="0.1" cy="0.42" rx="0.16" ry="0.13" fill="url(#hotY)" opacity="1"/>
<ellipse cx="0.4" cy="0.56" rx="0.2" ry="0.2" fill="url(#hotG)" opacity="0.9"/>
<ellipse cx="0.42" cy="0.6" rx="0.2" ry="0.19" fill="url(#hotR)" opacity="1"/>
<ellipse cx="0.36" cy="0.12" rx="0.25" ry="0.1" fill="url(#hotY)" opacity="1"/>
</g></g>
<g transform="matrix(50.6,29.0,-48.6,29.0,440.4,197.0)"><g clip-path="url(#usq)">
<rect x="0" y="0" width="1" height="1" fill="url(#navy)"/>
<ellipse cx="0.2" cy="0.5" rx="0.18" ry="0.3" fill="url(#dark)" opacity="1"/>
<ellipse cx="0.82" cy="0.5" rx="0.16" ry="0.3" fill="url(#dark)" opacity="1"/>
<ellipse cx="0.5" cy="0.5" rx="0.1" ry="0.3" fill="url(#dark)" opacity="0.7"/>
<ellipse cx="0.37" cy="0.5" rx="0.06" ry="0.42" fill="url(#hotB)" opacity="1"/>
<ellipse cx="0.64" cy="0.5" rx="0.05" ry="0.4" fill="url(#hotB)" opacity="0.5"/>
<ellipse cx="0.03" cy="0.97" rx="0.12" ry="0.06" fill="url(#hotB)" opacity="0.9"/>
<path d="M0,0.11 L0.36,0.11 L0.36,0.89 L0,0.9" fill="none" stroke="#4a2ce0" stroke-width="0.078" stroke-opacity="0.5" stroke-linecap="butt"/><path d="M0,0.11 L0.36,0.11 L0.36,0.89 L0,0.9" fill="none" stroke="#b844e8" stroke-width="0.03" stroke-dasharray="0.002 0.056" stroke-linecap="round" stroke-opacity="0.85"/>
<path d="M1,0.12 L0.645,0.12 L0.645,0.89 L0.95,0.9" fill="none" stroke="#4a2ce0" stroke-width="0.078" stroke-opacity="0.5" stroke-linecap="butt"/><path d="M1,0.12 L0.645,0.12 L0.645,0.89 L0.95,0.9" fill="none" stroke="#b844e8" stroke-width="0.03" stroke-dasharray="0.002 0.056" stroke-linecap="round" stroke-opacity="0.85"/>
<ellipse cx="0.37" cy="0.5" rx="0.05" ry="0.2" fill="url(#hotC)" opacity="0.9"/>
<ellipse cx="0.37" cy="0.52" rx="0.035" ry="0.07" fill="url(#glowW)" opacity="1"/>
<ellipse cx="0.37" cy="0.52" rx="0.02" ry="0.03" fill="url(#glowP)" opacity="1"/>
<ellipse cx="0.02" cy="0.97" rx="0.05" ry="0.035" fill="url(#glowP)" opacity="1"/>
</g></g>
<text x="389" y="49.3" font-size="7.4" font-weight="bold" fill="#111" text-anchor="end"><tspan font-style="italic">z</tspan> = 1 mm</text>
<text x="389" y="97.6" font-size="7.4" font-weight="bold" fill="#111" text-anchor="end"><tspan font-style="italic">z</tspan> = 0 mm</text>
<text x="389" y="144.4" font-size="7.4" font-weight="bold" fill="#111" text-anchor="end"><tspan font-style="italic">z</tspan> = -1 mm</text>
<text x="480" y="32.5" font-size="6.9" font-weight="bold" fill="#111" text-anchor="middle">Top</text>
<line x1="483" y1="35" x2="479.6" y2="40" stroke="#3d6fc0" stroke-width="0.8" marker-end="url(#mc)"/>
<text x="478.3" y="80.1" font-size="6.9" font-weight="bold" fill="#111" text-anchor="middle">Middle</text>
<line x1="482" y1="82" x2="476.5" y2="87" stroke="#3d6fc0" stroke-width="0.8" marker-end="url(#mc)"/>
<text x="477" y="125.5" font-size="6.9" font-weight="bold" fill="#111" text-anchor="middle">Bottom</text>
<line x1="481" y1="127.5" x2="476" y2="131.5" stroke="#3d6fc0" stroke-width="0.8" marker-end="url(#mc)"/>
<line x1="500" y1="45" x2="500" y2="132" stroke="#3d6fc0" stroke-width="2"/>
<polygon points="495.6,130 504.4,130 500,139" fill="#3d6fc0"/>
<text transform="translate(512.8,93) rotate(-90)" font-size="10" fill="#333" text-anchor="middle">incidence</text>
<rect x="497.6" y="157.6" width="5.2" height="88.8" fill="url(#cbar)"/>
<text x="504.6" y="162.8" font-size="7.7" font-weight="bold" fill="#111">Max</text>
<text x="504.6" y="246.2" font-size="7.7" font-weight="bold" fill="#111">Min</text>
<text x="506.3" y="203.4" font-size="7.4" fill="#222">|<tspan font-style="italic" font-weight="bold" font-family="Liberation Serif, serif">E</tspan>|</text>
</g>
</svg>
</body></html>
